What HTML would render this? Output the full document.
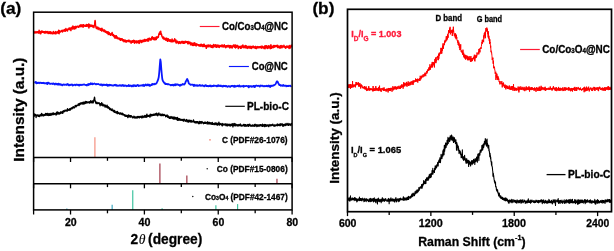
<!DOCTYPE html>
<html><head><meta charset="utf-8"><style>
html,body{margin:0;padding:0;background:#fff;overflow:hidden;}
svg{display:block;will-change:transform;}
text{font-family:"Liberation Sans",sans-serif;font-weight:bold;}
</style></head><body>
<svg width="614" height="251" viewBox="0 0 614 251">
<rect width="614" height="251" fill="#fff"/>
<polyline points="34.30,32.60 34.50,32.92 34.70,32.57 34.90,31.41 35.10,32.95 35.30,32.62 35.50,31.92 35.70,32.70 35.90,32.54 36.10,32.48 36.30,32.29 36.50,32.65 36.70,31.74 36.90,32.14 37.10,31.91 37.30,32.66 37.50,32.27 37.70,32.03 37.90,31.68 38.10,32.05 38.30,32.23 38.50,32.03 38.70,33.12 38.90,32.92 39.10,30.31 39.30,30.89 39.50,32.09 39.70,31.91 39.90,32.35 40.10,32.36 40.30,33.69 40.50,31.42 40.70,31.94 40.90,33.63 41.10,32.65 41.30,32.66 41.50,31.84 41.70,31.04 41.90,32.32 42.10,32.27 42.30,31.34 42.50,31.72 42.70,32.15 42.90,31.54 43.10,32.13 43.30,32.27 43.50,32.23 43.70,31.85 43.90,32.63 44.10,32.85 44.30,32.46 44.50,31.67 44.70,32.77 44.90,31.92 45.10,32.90 45.30,31.56 45.50,32.96 45.70,32.33 45.90,31.49 46.10,32.16 46.30,32.44 46.50,32.61 46.70,31.76 46.90,31.69 47.10,32.63 47.30,32.19 47.50,32.70 47.70,33.09 47.90,31.43 48.10,32.79 48.30,33.49 48.50,32.45 48.70,32.11 48.90,33.23 49.10,32.91 49.30,33.38 49.50,32.53 49.70,31.76 49.90,32.74 50.10,32.52 50.30,33.40 50.50,33.01 50.70,31.75 50.90,32.07 51.10,33.54 51.30,33.41 51.50,32.50 51.70,32.96 51.90,33.28 52.10,33.31 52.30,33.60 52.50,33.17 52.70,32.93 52.90,32.82 53.10,33.74 53.30,31.42 53.50,32.89 53.70,33.00 53.90,31.96 54.10,33.17 54.30,32.46 54.50,33.49 54.70,32.77 54.90,33.30 55.10,33.65 55.30,33.03 55.50,32.11 55.70,31.63 55.90,33.87 56.10,32.53 56.30,32.08 56.50,32.62 56.70,32.34 56.90,33.03 57.10,32.41 57.30,32.35 57.50,31.80 57.70,32.59 57.90,31.49 58.10,32.64 58.30,33.20 58.50,31.02 58.70,30.31 58.90,32.42 59.10,33.72 59.30,31.19 59.50,30.96 59.70,32.19 59.90,31.13 60.10,31.31 60.30,31.36 60.50,31.92 60.70,31.20 60.90,31.62 61.10,31.24 61.30,30.71 61.50,31.02 61.70,30.51 61.90,31.12 62.10,30.27 62.30,30.23 62.50,31.96 62.70,30.84 62.90,30.79 63.10,31.13 63.30,30.42 63.50,30.50 63.70,30.90 63.90,30.74 64.10,29.68 64.30,31.02 64.50,29.96 64.70,29.58 64.90,29.63 65.10,29.94 65.30,31.29 65.50,29.27 65.70,30.15 65.90,28.49 66.10,29.93 66.30,30.50 66.50,29.65 66.70,29.32 66.90,29.87 67.10,30.14 67.30,30.06 67.50,30.92 67.70,29.63 67.90,29.01 68.10,29.28 68.30,29.26 68.50,29.33 68.70,29.18 68.90,29.26 69.10,27.91 69.30,29.61 69.50,28.57 69.70,28.09 69.90,29.30 70.10,29.72 70.30,29.08 70.50,28.80 70.70,27.97 70.90,30.58 71.10,29.13 71.30,27.66 71.50,27.85 71.70,28.41 71.90,27.20 72.10,28.35 72.30,27.86 72.50,28.98 72.70,28.75 72.90,26.12 73.10,28.00 73.30,26.79 73.50,28.64 73.70,27.93 73.90,28.15 74.10,26.97 74.30,28.94 74.50,29.02 74.70,26.81 74.90,27.77 75.10,26.99 75.30,27.39 75.50,26.48 75.70,28.62 75.90,26.59 76.10,27.01 76.30,27.52 76.50,26.67 76.70,26.91 76.90,26.64 77.10,26.89 77.30,26.12 77.50,26.59 77.70,26.71 77.90,26.58 78.10,26.81 78.30,26.53 78.50,27.21 78.70,26.42 78.90,26.50 79.10,26.09 79.30,26.14 79.50,25.57 79.70,26.78 79.90,25.57 80.10,25.80 80.30,26.53 80.50,26.52 80.70,25.91 80.90,24.74 81.10,26.41 81.30,26.26 81.50,25.06 81.70,26.56 81.90,25.50 82.10,25.17 82.30,26.01 82.50,25.80 82.70,26.05 82.90,24.77 83.10,27.16 83.30,25.46 83.50,24.79 83.70,26.30 83.90,25.61 84.10,26.08 84.30,25.61 84.50,25.80 84.70,26.01 84.90,25.31 85.10,26.30 85.30,25.49 85.50,25.21 85.70,25.86 85.90,26.12 86.10,25.64 86.30,25.19 86.50,26.23 86.70,24.56 86.90,25.07 87.10,25.81 87.30,24.83 87.50,25.80 87.70,25.74 87.90,26.41 88.10,25.14 88.30,25.34 88.50,26.02 88.70,24.07 88.90,27.97 89.10,25.32 89.30,25.31 89.50,26.44 89.70,25.82 89.90,24.62 90.10,26.32 90.30,26.50 90.50,25.61 90.70,25.75 90.90,26.31 91.10,25.36 91.30,26.33 91.50,26.19 91.70,25.60 91.90,25.13 92.10,25.97 92.30,25.54 92.50,26.87 92.70,26.29 92.90,26.75 93.10,26.30 93.30,26.41 93.50,25.68 93.70,26.69 93.90,27.43 94.10,25.86 94.30,25.41 94.50,25.18 94.70,23.81 94.90,21.52 95.10,20.50 95.30,22.02 95.50,25.57 95.70,25.90 95.90,26.87 96.10,27.75 96.30,27.17 96.50,28.61 96.70,27.33 96.90,27.35 97.10,27.79 97.30,28.07 97.50,27.28 97.70,28.33 97.90,27.28 98.10,29.51 98.30,28.56 98.50,28.25 98.70,28.14 98.90,28.59 99.10,28.77 99.30,28.27 99.50,28.43 99.70,29.01 99.90,28.84 100.10,29.94 100.30,30.14 100.50,29.43 100.70,29.82 100.90,28.62 101.10,30.07 101.30,29.68 101.50,30.12 101.70,30.97 101.90,28.34 102.10,30.20 102.30,29.33 102.50,30.60 102.70,29.35 102.90,30.01 103.10,30.58 103.30,30.96 103.50,30.67 103.70,30.16 103.90,30.42 104.10,31.52 104.30,30.99 104.50,29.92 104.70,31.78 104.90,31.58 105.10,32.00 105.30,31.25 105.50,32.17 105.70,30.95 105.90,32.19 106.10,31.55 106.30,32.47 106.50,32.80 106.70,31.68 106.90,32.27 107.10,32.43 107.30,33.34 107.50,33.11 107.70,31.86 107.90,33.14 108.10,33.44 108.30,34.51 108.50,31.95 108.70,32.86 108.90,34.28 109.10,32.51 109.30,32.72 109.50,34.03 109.70,34.49 109.90,33.42 110.10,34.37 110.30,34.17 110.50,35.25 110.70,34.26 110.90,35.01 111.10,33.71 111.30,34.16 111.50,34.02 111.70,34.38 111.90,33.24 112.10,32.42 112.30,34.41 112.50,35.21 112.70,35.02 112.90,35.20 113.10,35.46 113.30,34.57 113.50,36.04 113.70,36.20 113.90,35.55 114.10,36.79 114.30,35.42 114.50,36.10 114.70,36.25 114.90,38.08 115.10,35.67 115.30,37.28 115.50,37.64 115.70,37.34 115.90,38.00 116.10,36.57 116.30,35.76 116.50,37.99 116.70,36.71 116.90,37.40 117.10,36.90 117.30,38.55 117.50,38.50 117.70,37.48 117.90,38.70 118.10,38.23 118.30,38.13 118.50,38.35 118.70,38.25 118.90,38.90 119.10,38.77 119.30,38.38 119.50,39.40 119.70,38.35 119.90,39.05 120.10,39.21 120.30,40.02 120.50,38.70 120.70,40.35 120.90,39.32 121.10,39.13 121.30,38.87 121.50,39.82 121.70,39.51 121.90,38.78 122.10,38.83 122.30,39.29 122.50,39.28 122.70,40.58 122.90,40.84 123.10,40.55 123.30,40.25 123.50,39.76 123.70,40.16 123.90,40.80 124.10,41.73 124.30,40.93 124.50,40.15 124.70,40.42 124.90,40.11 125.10,39.94 125.30,40.41 125.50,40.72 125.70,41.91 125.90,40.70 126.10,41.65 126.30,41.97 126.50,40.82 126.70,41.93 126.90,41.34 127.10,40.58 127.30,41.09 127.50,40.95 127.70,40.80 127.90,40.86 128.10,41.13 128.30,41.36 128.50,40.46 128.70,41.10 128.90,40.07 129.10,41.34 129.30,41.62 129.50,41.33 129.70,41.44 129.90,41.67 130.10,40.82 130.30,41.14 130.50,41.69 130.70,42.05 130.90,41.65 131.10,43.18 131.30,41.35 131.50,42.13 131.70,42.33 131.90,41.37 132.10,40.91 132.30,40.67 132.50,41.63 132.70,42.31 132.90,41.74 133.10,41.69 133.30,41.32 133.50,42.00 133.70,40.13 133.90,41.81 134.10,41.68 134.30,40.72 134.50,43.22 134.70,40.74 134.90,40.97 135.10,40.90 135.30,42.53 135.50,41.15 135.70,42.25 135.90,42.21 136.10,41.99 136.30,40.90 136.50,41.40 136.70,43.01 136.90,40.94 137.10,41.27 137.30,41.74 137.50,42.42 137.70,42.03 137.90,42.38 138.10,41.11 138.30,42.51 138.50,42.24 138.70,40.71 138.90,42.88 139.10,43.38 139.30,41.21 139.50,41.76 139.70,42.66 139.90,40.61 140.10,40.21 140.30,40.65 140.50,41.12 140.70,41.06 140.90,41.84 141.10,41.55 141.30,40.44 141.50,41.65 141.70,42.52 141.90,41.99 142.10,41.79 142.30,41.05 142.50,41.67 142.70,40.26 142.90,41.41 143.10,40.77 143.30,41.57 143.50,41.06 143.70,39.93 143.90,40.74 144.10,41.46 144.30,39.77 144.50,40.13 144.70,39.94 144.90,39.39 145.10,41.07 145.30,41.27 145.50,40.87 145.70,40.44 145.90,40.19 146.10,40.35 146.30,39.63 146.50,40.72 146.70,40.79 146.90,40.67 147.10,39.60 147.30,39.98 147.50,39.77 147.70,41.10 147.90,39.93 148.10,38.45 148.30,40.01 148.50,41.00 148.70,40.13 148.90,40.23 149.10,39.60 149.30,38.16 149.50,38.24 149.70,38.60 149.90,39.35 150.10,39.62 150.30,39.85 150.50,39.10 150.70,39.97 150.90,39.07 151.10,38.73 151.30,39.79 151.50,38.51 151.70,37.20 151.90,38.33 152.10,39.10 152.30,36.84 152.50,38.71 152.70,38.69 152.90,37.88 153.10,37.80 153.30,38.48 153.50,38.38 153.70,39.61 153.90,38.95 154.10,37.54 154.30,38.01 154.50,39.06 154.70,39.85 154.90,38.75 155.10,38.65 155.30,39.69 155.50,38.31 155.70,38.05 155.90,37.21 156.10,37.76 156.30,39.56 156.50,36.94 156.70,37.84 156.90,36.72 157.10,37.65 157.30,38.01 157.50,37.03 157.70,37.49 157.90,37.22 158.10,36.73 158.30,37.27 158.50,36.22 158.70,35.00 158.90,34.22 159.10,33.55 159.30,33.88 159.50,32.74 159.70,34.35 159.90,33.33 160.10,31.68 160.30,31.61 160.50,33.26 160.70,31.18 160.90,32.74 161.10,34.33 161.30,33.65 161.50,34.55 161.70,35.19 161.90,36.39 162.10,36.47 162.30,37.04 162.50,37.52 162.70,37.42 162.90,38.45 163.10,37.40 163.30,37.11 163.50,37.06 163.70,37.34 163.90,38.24 164.10,39.49 164.30,39.01 164.50,38.59 164.70,38.36 164.90,38.84 165.10,39.01 165.30,38.98 165.50,38.45 165.70,39.19 165.90,40.31 166.10,38.14 166.30,39.56 166.50,38.30 166.70,39.97 166.90,39.38 167.10,38.49 167.30,40.08 167.50,41.33 167.70,40.18 167.90,40.97 168.10,40.15 168.30,38.74 168.50,40.63 168.70,40.04 168.90,39.35 169.10,40.97 169.30,40.66 169.50,40.13 169.70,41.14 169.90,39.96 170.10,41.06 170.30,39.99 170.50,41.06 170.70,39.95 170.90,41.79 171.10,40.96 171.30,41.82 171.50,40.27 171.70,40.54 171.90,41.49 172.10,39.01 172.30,40.22 172.50,41.72 172.70,41.35 172.90,41.74 173.10,40.87 173.30,41.51 173.50,40.63 173.70,40.21 173.90,40.02 174.10,40.85 174.30,40.88 174.50,40.86 174.70,38.85 174.90,39.97 175.10,41.03 175.30,41.65 175.50,41.08 175.70,40.92 175.90,39.96 176.10,43.04 176.30,40.91 176.50,42.91 176.70,42.87 176.90,42.02 177.10,41.49 177.30,42.03 177.50,41.19 177.70,42.23 177.90,42.10 178.10,42.52 178.30,42.86 178.50,43.45 178.70,42.01 178.90,43.05 179.10,41.80 179.30,41.77 179.50,41.99 179.70,41.76 179.90,43.15 180.10,43.13 180.30,43.39 180.50,42.49 180.70,42.71 180.90,42.12 181.10,41.73 181.30,42.85 181.50,42.73 181.70,41.77 181.90,42.96 182.10,41.33 182.30,42.42 182.50,42.11 182.70,42.17 182.90,41.78 183.10,43.20 183.30,42.92 183.50,43.34 183.70,42.59 183.90,41.58 184.10,42.21 184.30,41.62 184.50,42.75 184.70,43.25 184.90,42.61 185.10,41.92 185.30,42.05 185.50,42.43 185.70,41.24 185.90,42.33 186.10,42.34 186.30,41.80 186.50,41.89 186.70,42.31 186.90,41.64 187.10,41.69 187.30,42.89 187.50,42.59 187.70,43.71 187.90,41.96 188.10,41.52 188.30,43.54 188.50,43.67 188.70,42.59 188.90,42.18 189.10,43.28 189.30,42.17 189.50,43.24 189.70,42.03 189.90,43.45 190.10,42.19 190.30,43.57 190.50,44.85 190.70,43.64 190.90,44.41 191.10,43.47 191.30,43.33 191.50,42.94 191.70,44.75 191.90,44.02 192.10,45.22 192.30,43.29 192.50,43.99 192.70,44.23 192.90,45.19 193.10,45.50 193.30,43.80 193.50,43.49 193.70,43.09 193.90,45.27 194.10,44.30 194.30,43.94 194.50,44.38 194.70,42.65 194.90,43.27 195.10,45.16 195.30,44.81 195.50,44.67 195.70,43.90 195.90,45.05 196.10,45.92 196.30,43.86 196.50,44.76 196.70,44.49 196.90,45.08 197.10,44.88 197.30,44.81 197.50,44.33 197.70,44.98 197.90,44.59 198.10,44.96 198.30,45.05 198.50,45.59 198.70,44.76 198.90,44.97 199.10,45.97 199.30,45.10 199.50,45.09 199.70,45.90 199.90,45.51 200.10,45.40 200.30,45.51 200.50,44.50 200.70,45.71 200.90,46.33 201.10,45.82 201.30,44.34 201.50,45.65 201.70,44.83 201.90,45.32 202.10,45.58 202.30,44.67 202.50,46.45 202.70,45.48 202.90,46.10 203.10,46.00 203.30,46.51 203.50,46.41 203.70,44.56 203.90,45.63 204.10,44.12 204.30,45.31 204.50,46.13 204.70,46.28 204.90,46.56 205.10,45.40 205.30,45.90 205.50,45.75 205.70,46.58 205.90,46.81 206.10,45.46 206.30,48.37 206.50,45.72 206.70,45.48 206.90,46.16 207.10,46.28 207.30,46.14 207.50,45.31 207.70,46.81 207.90,45.82 208.10,46.87 208.30,46.78 208.50,44.92 208.70,45.13 208.90,45.13 209.10,46.01 209.30,45.88 209.50,46.04 209.70,45.29 209.90,46.17 210.10,46.86 210.30,44.95 210.50,45.75 210.70,46.07 210.90,45.82 211.10,45.78 211.30,47.16 211.50,46.83 211.70,46.53 211.90,45.41 212.10,47.52 212.30,46.21 212.50,45.56 212.70,45.73 212.90,45.63 213.10,47.47 213.30,46.13 213.50,46.04 213.70,44.49 213.90,46.52 214.10,45.27 214.30,45.23 214.50,46.45 214.70,45.43 214.90,46.62 215.10,46.83 215.30,44.80 215.50,45.96 215.70,44.96 215.90,46.02 216.10,46.71 216.30,45.12 216.50,47.34 216.70,45.87 216.90,45.26 217.10,46.01 217.30,46.66 217.50,45.14 217.70,46.12 217.90,45.16 218.10,46.97 218.30,46.24 218.50,45.84 218.70,46.87 218.90,45.24 219.10,45.88 219.30,47.45 219.50,46.08 219.70,47.12 219.90,46.31 220.10,45.69 220.30,46.01 220.50,46.24 220.70,45.91 220.90,45.62 221.10,45.66 221.30,45.17 221.50,46.29 221.70,46.50 221.90,46.75 222.10,44.97 222.30,46.80 222.50,46.23 222.70,45.25 222.90,46.32 223.10,46.83 223.30,46.63 223.50,46.78 223.70,46.94 223.90,46.91 224.10,46.26 224.30,44.83 224.50,45.76 224.70,46.55 224.90,45.98 225.10,46.79 225.30,46.88 225.50,46.36 225.70,47.64 225.90,45.65 226.10,46.99 226.30,46.01 226.50,45.80 226.70,46.77 226.90,45.93 227.10,46.97 227.30,45.55 227.50,46.40 227.70,45.79 227.90,46.22 228.10,46.13 228.30,45.61 228.50,46.86 228.70,45.54 228.90,45.73 229.10,47.05 229.30,47.11 229.50,46.90 229.70,46.68 229.90,48.04 230.10,45.61 230.30,45.94 230.50,45.77 230.70,47.10 230.90,46.68 231.10,47.26 231.30,47.17 231.50,46.34 231.70,45.93 231.90,45.82 232.10,48.07 232.30,47.21 232.50,46.95 232.70,46.31 232.90,46.42 233.10,46.32 233.30,46.34 233.50,44.90 233.70,46.55 233.90,46.33 234.10,46.81 234.30,46.76 234.50,47.22 234.70,46.63 234.90,47.20 235.10,44.86 235.30,45.89 235.50,47.88 235.70,45.83 235.90,46.50 236.10,47.20 236.30,46.10 236.50,47.23 236.70,45.73 236.90,45.40 237.10,45.82 237.30,45.61 237.50,46.76 237.70,46.56 237.90,47.02 238.10,46.08 238.30,48.59 238.50,46.76 238.70,46.80 238.90,47.16 239.10,46.68 239.30,46.42 239.50,46.93 239.70,47.53 239.90,47.36 240.10,47.56 240.30,46.52 240.50,46.38 240.70,48.33 240.90,46.77 241.10,47.28 241.30,47.47 241.50,47.96 241.70,46.03 241.90,46.64 242.10,46.68 242.30,46.78 242.50,45.31 242.70,46.94 242.90,44.99 243.10,47.23 243.30,47.41 243.50,47.45 243.70,46.20 243.90,47.72 244.10,46.45 244.30,46.20 244.50,46.38 244.70,46.47 244.90,47.19 245.10,47.65 245.30,45.61 245.50,46.70 245.70,47.72 245.90,47.23 246.10,47.45 246.30,46.04 246.50,47.76 246.70,46.00 246.90,47.24 247.10,48.06 247.30,48.42 247.50,47.47 247.70,47.73 247.90,46.69 248.10,46.78 248.30,47.94 248.50,47.12 248.70,47.03 248.90,46.14 249.10,47.23 249.30,47.58 249.50,46.57 249.70,46.78 249.90,48.24 250.10,47.26 250.30,46.94 250.50,46.34 250.70,46.71 250.90,46.97 251.10,48.10 251.30,46.72 251.50,48.40 251.70,46.50 251.90,46.90 252.10,47.74 252.30,46.99 252.50,46.57 252.70,47.06 252.90,47.47 253.10,45.96 253.30,46.99 253.50,47.09 253.70,46.88 253.90,47.68 254.10,46.77 254.30,46.91 254.50,47.20 254.70,47.68 254.90,47.02 255.10,48.23 255.30,46.54 255.50,48.08 255.70,46.58 255.90,47.06 256.10,47.43 256.30,48.62 256.50,47.81 256.70,46.90 256.90,48.09 257.10,47.03 257.30,46.63 257.50,47.50 257.70,47.25 257.90,47.85 258.10,46.80 258.30,47.45 258.50,47.63 258.70,47.38 258.90,47.17 259.10,46.70 259.30,47.82 259.50,47.29 259.70,47.54 259.90,46.94 260.10,47.20 260.30,46.46 260.50,47.25 260.70,47.73 260.90,47.26 261.10,47.79 261.30,47.41 261.50,48.15 261.70,47.06 261.90,46.04 262.10,47.49 262.30,47.07 262.50,46.51 262.70,47.64 262.90,47.37 263.10,47.49 263.30,46.95 263.50,47.31 263.70,47.35 263.90,48.41 264.10,46.68 264.30,47.15 264.50,47.41 264.70,45.94 264.90,46.02 265.10,48.65 265.30,45.89 265.50,47.52 265.70,46.52 265.90,46.57 266.10,45.71 266.30,46.46 266.50,47.63 266.70,46.10 266.90,47.48 267.10,47.27 267.30,48.45 267.50,46.70 267.70,47.90 267.90,47.63 268.10,46.80 268.30,45.83 268.50,48.04 268.70,46.01 268.90,46.63 269.10,47.56 269.30,47.72 269.50,46.33 269.70,46.89 269.90,46.72 270.10,47.72 270.30,48.63 270.50,45.59 270.70,47.50 270.90,44.84 271.10,46.84 271.30,46.04 271.50,48.20 271.70,46.91 271.90,46.26 272.10,46.42 272.30,46.35 272.50,46.87 272.70,46.62 272.90,47.17 273.10,47.78 273.30,47.17 273.50,45.81 273.70,45.51 273.90,46.10 274.10,47.34 274.30,46.35 274.50,46.09 274.70,46.62 274.90,45.50 275.10,45.66 275.30,46.77 275.50,46.16 275.70,46.00 275.90,46.49 276.10,45.80 276.30,45.68 276.50,45.80 276.70,46.52 276.90,46.14 277.10,45.28 277.30,45.95 277.50,46.66 277.70,47.57 277.90,45.51 278.10,46.59 278.30,46.22 278.50,47.01 278.70,46.78 278.90,47.53 279.10,46.88 279.30,46.16 279.50,46.18 279.70,46.86 279.90,46.86 280.10,48.27 280.30,47.78 280.50,45.79 280.70,46.87 280.90,45.70 281.10,45.48 281.30,47.16 281.50,47.03 281.70,45.92 281.90,47.80 282.10,45.97 282.30,45.84 282.50,47.12 282.70,46.82 282.90,46.56 283.10,46.63 283.30,46.83 283.50,46.58 283.70,46.56 283.90,45.36 284.10,45.75 284.30,47.11 284.50,46.20 284.70,47.07 284.90,47.56 285.10,46.45 285.30,46.89 285.50,48.15 285.70,47.19 285.90,47.99 286.10,47.78 286.30,47.23 286.50,46.63 286.70,46.12 286.90,45.94 287.10,47.06 287.30,47.05 287.50,46.60 287.70,47.32 287.90,46.30 288.10,47.50 288.30,46.76 288.50,46.71 288.70,46.74 288.90,46.67 289.10,48.48 289.30,45.62 289.50,46.87 289.70,47.62 289.90,47.26 290.10,46.54 290.30,47.98 290.50,46.01 290.70,45.85 290.90,47.17 291.10,45.76 291.30,45.11 291.50,47.40" fill="none" stroke="#ff0000" stroke-width="1.5" stroke-linejoin="round"/>
<polyline points="34.30,82.69 34.80,82.46 35.30,82.52 35.80,81.83 36.30,83.34 36.80,83.13 37.30,82.64 37.80,83.04 38.30,82.90 38.80,82.63 39.30,83.19 39.80,82.76 40.30,82.78 40.80,82.64 41.30,83.11 41.80,82.94 42.30,83.19 42.80,82.82 43.30,83.10 43.80,82.77 44.30,83.41 44.80,83.21 45.30,83.29 45.80,83.34 46.30,82.88 46.80,83.53 47.30,84.01 47.80,82.75 48.30,82.75 48.80,82.86 49.30,83.71 49.80,83.50 50.30,83.86 50.80,83.78 51.30,83.64 51.80,83.71 52.30,83.60 52.80,84.01 53.30,83.35 53.80,83.65 54.30,83.93 54.80,84.53 55.30,83.68 55.80,83.62 56.30,83.85 56.80,84.43 57.30,84.06 57.80,84.66 58.30,83.58 58.80,84.68 59.30,84.69 59.80,83.88 60.30,84.47 60.80,84.88 61.30,84.53 61.80,84.88 62.30,85.40 62.80,84.69 63.30,84.53 63.80,84.38 64.30,84.90 64.80,84.62 65.30,84.64 65.80,84.68 66.30,84.96 66.80,84.37 67.30,84.22 67.80,83.92 68.30,85.21 68.80,84.83 69.30,85.34 69.80,84.82 70.30,84.58 70.80,85.02 71.30,84.83 71.80,84.43 72.30,84.57 72.80,85.51 73.30,85.03 73.80,85.06 74.30,84.82 74.80,84.69 75.30,85.25 75.80,84.91 76.30,84.69 76.80,84.91 77.30,84.65 77.80,85.04 78.30,85.37 78.80,84.69 79.30,85.48 79.80,84.75 80.30,85.04 80.80,84.70 81.30,84.91 81.80,85.01 82.30,84.84 82.80,84.73 83.30,84.72 83.80,84.64 84.30,84.34 84.80,84.75 85.30,84.94 85.80,85.06 86.30,84.91 86.80,85.49 87.30,84.68 87.80,84.35 88.30,85.11 88.80,84.01 89.30,84.62 89.80,83.84 90.30,84.19 90.80,83.27 91.30,84.18 91.80,83.73 92.30,83.39 92.80,84.28 93.30,83.96 93.80,83.74 94.30,83.52 94.80,83.84 95.30,83.89 95.80,84.29 96.30,84.41 96.80,83.99 97.30,84.11 97.80,84.18 98.30,83.94 98.80,84.26 99.30,84.47 99.80,84.79 100.30,85.05 100.80,84.35 101.30,84.87 101.80,84.56 102.30,85.48 102.80,84.77 103.30,85.00 103.80,84.53 104.30,84.61 104.80,85.00 105.30,84.83 105.80,85.12 106.30,84.48 106.80,85.29 107.30,84.77 107.80,85.72 108.30,85.04 108.80,85.55 109.30,84.70 109.80,85.37 110.30,84.93 110.80,85.09 111.30,85.29 111.80,85.19 112.30,85.42 112.80,85.60 113.30,85.59 113.80,85.34 114.30,84.91 114.80,85.12 115.30,85.35 115.80,84.69 116.30,85.72 116.80,85.38 117.30,85.39 117.80,85.83 118.30,85.75 118.80,85.60 119.30,85.19 119.80,85.66 120.30,85.69 120.80,85.27 121.30,85.96 121.80,85.79 122.30,84.93 122.80,85.67 123.30,85.20 123.80,86.05 124.30,85.95 124.80,85.29 125.30,85.37 125.80,85.73 126.30,85.62 126.80,86.24 127.30,85.98 127.80,85.62 128.30,85.93 128.80,85.02 129.30,85.85 129.80,86.05 130.30,85.68 130.80,85.50 131.30,85.95 131.80,86.44 132.30,85.82 132.80,85.36 133.30,86.25 133.80,85.09 134.30,85.91 134.80,85.52 135.30,86.04 135.80,85.40 136.30,86.14 136.80,85.76 137.30,85.03 137.80,84.92 138.30,85.48 138.80,86.01 139.30,85.58 139.80,85.53 140.30,85.39 140.80,85.70 141.30,85.54 141.80,85.48 142.30,85.00 142.80,85.73 143.30,85.76 143.80,84.80 144.30,86.03 144.80,85.44 145.30,84.99 145.80,84.46 146.30,85.33 146.80,85.26 147.30,84.83 147.80,84.38 148.30,85.37 148.80,84.75 149.30,84.76 149.80,85.89 150.30,85.61 150.80,85.16 151.30,84.63 151.80,84.97 152.30,83.89 152.80,84.66 153.30,84.27 153.80,83.99 154.30,83.76 154.80,84.34 155.30,83.98 155.80,83.74 156.30,83.62 156.80,82.53 157.30,81.67 157.80,80.39 158.30,79.18 158.80,76.76 159.30,71.81 159.80,65.36 160.30,59.46 160.80,62.27 161.30,69.10 161.80,74.47 162.30,78.99 162.80,80.71 163.30,81.44 163.80,82.29 164.30,83.11 164.80,83.04 165.30,83.99 165.80,83.61 166.30,84.11 166.80,84.01 167.30,84.31 167.80,84.10 168.30,84.08 168.80,84.35 169.30,84.50 169.80,84.68 170.30,84.84 170.80,85.38 171.30,85.15 171.80,84.80 172.30,85.17 172.80,84.69 173.30,85.45 173.80,85.15 174.30,84.50 174.80,85.24 175.30,85.27 175.80,84.06 176.30,84.74 176.80,84.84 177.30,84.33 177.80,84.63 178.30,84.67 178.80,85.18 179.30,85.09 179.80,85.89 180.30,84.81 180.80,85.33 181.30,84.91 181.80,84.92 182.30,84.34 182.80,83.97 183.30,84.22 183.80,84.54 184.30,84.51 184.80,83.68 185.30,82.90 185.80,81.33 186.30,80.72 186.80,79.49 187.30,79.01 187.80,80.50 188.30,81.59 188.80,83.51 189.30,83.84 189.80,84.13 190.30,84.63 190.80,84.87 191.30,84.73 191.80,84.57 192.30,84.65 192.80,84.56 193.30,85.40 193.80,86.06 194.30,84.73 194.80,85.41 195.30,85.54 195.80,85.08 196.30,85.52 196.80,85.09 197.30,85.91 197.80,85.30 198.30,85.56 198.80,85.79 199.30,85.41 199.80,84.95 200.30,85.41 200.80,85.87 201.30,85.59 201.80,85.71 202.30,85.27 202.80,85.71 203.30,85.93 203.80,85.70 204.30,86.36 204.80,85.63 205.30,85.35 205.80,85.16 206.30,86.14 206.80,85.73 207.30,86.12 207.80,85.93 208.30,86.35 208.80,86.24 209.30,85.67 209.80,85.91 210.30,86.21 210.80,85.41 211.30,86.36 211.80,86.28 212.30,86.21 212.80,85.81 213.30,86.00 213.80,85.51 214.30,85.93 214.80,85.72 215.30,85.96 215.80,85.77 216.30,86.05 216.80,86.37 217.30,85.51 217.80,86.30 218.30,85.29 218.80,85.24 219.30,85.97 219.80,86.02 220.30,86.18 220.80,85.46 221.30,86.02 221.80,86.10 222.30,86.50 222.80,86.03 223.30,86.26 223.80,85.74 224.30,86.03 224.80,85.95 225.30,86.36 225.80,85.77 226.30,85.83 226.80,86.33 227.30,86.77 227.80,86.28 228.30,86.26 228.80,86.04 229.30,86.55 229.80,86.36 230.30,86.79 230.80,86.30 231.30,85.86 231.80,86.00 232.30,85.86 232.80,85.77 233.30,86.66 233.80,86.51 234.30,85.79 234.80,86.86 235.30,86.32 235.80,85.91 236.30,86.38 236.80,86.23 237.30,85.98 237.80,85.58 238.30,86.27 238.80,86.37 239.30,85.36 239.80,86.46 240.30,86.49 240.80,86.11 241.30,86.32 241.80,86.18 242.30,85.99 242.80,86.15 243.30,86.75 243.80,85.77 244.30,86.37 244.80,86.35 245.30,86.03 245.80,86.13 246.30,85.79 246.80,85.98 247.30,86.28 247.80,86.39 248.30,85.96 248.80,87.34 249.30,86.07 249.80,86.31 250.30,86.18 250.80,86.12 251.30,86.71 251.80,86.08 252.30,86.71 252.80,86.64 253.30,85.87 253.80,86.59 254.30,86.00 254.80,87.18 255.30,86.08 255.80,85.88 256.30,85.53 256.80,85.74 257.30,85.99 257.80,85.83 258.30,85.75 258.80,85.93 259.30,86.09 259.80,86.66 260.30,85.55 260.80,85.95 261.30,85.80 261.80,85.60 262.30,85.67 262.80,85.79 263.30,86.35 263.80,86.02 264.30,85.89 264.80,86.29 265.30,86.16 265.80,85.97 266.30,86.18 266.80,85.74 267.30,86.24 267.80,86.16 268.30,85.84 268.80,85.54 269.30,86.48 269.80,85.95 270.30,86.96 270.80,85.63 271.30,86.11 271.80,85.61 272.30,85.78 272.80,85.89 273.30,85.20 273.80,85.27 274.30,85.11 274.80,84.73 275.30,84.34 275.80,83.66 276.30,82.51 276.80,81.45 277.30,81.35 277.80,82.04 278.30,83.22 278.80,84.05 279.30,84.99 279.80,84.96 280.30,84.87 280.80,85.69 281.30,85.30 281.80,85.39 282.30,85.64 282.80,85.93 283.30,84.96 283.80,85.44 284.30,85.92 284.80,85.74 285.30,85.58 285.80,85.71 286.30,86.39 286.80,85.76 287.30,86.17 287.80,86.21 288.30,85.78 288.80,86.10 289.30,85.79 289.80,85.73 290.30,85.56 290.80,86.26 291.30,85.81" fill="none" stroke="#0a18ff" stroke-width="1.8" stroke-linejoin="round"/>
<polyline points="34.30,116.80 34.50,114.04 34.70,115.81 34.90,115.22 35.10,115.28 35.30,115.41 35.50,114.32 35.70,115.38 35.90,115.00 36.10,117.50 36.30,115.63 36.50,115.27 36.70,115.31 36.90,115.07 37.10,114.82 37.30,115.21 37.50,115.72 37.70,115.28 37.90,115.99 38.10,115.28 38.30,115.40 38.50,116.30 38.70,115.69 38.90,115.05 39.10,115.23 39.30,115.65 39.50,116.47 39.70,115.14 39.90,115.14 40.10,115.87 40.30,114.73 40.50,115.07 40.70,115.76 40.90,115.56 41.10,115.25 41.30,115.59 41.50,113.47 41.70,115.77 41.90,114.56 42.10,114.12 42.30,115.27 42.50,115.51 42.70,114.81 42.90,114.42 43.10,115.06 43.30,115.00 43.50,115.86 43.70,115.44 43.90,115.10 44.10,115.63 44.30,114.82 44.50,114.37 44.70,115.26 44.90,115.24 45.10,114.75 45.30,114.39 45.50,114.98 45.70,113.33 45.90,115.22 46.10,115.09 46.30,113.79 46.50,114.79 46.70,114.16 46.90,115.17 47.10,113.48 47.30,114.13 47.50,115.09 47.70,115.34 47.90,113.33 48.10,114.30 48.30,114.78 48.50,114.20 48.70,115.50 48.90,113.81 49.10,114.71 49.30,113.85 49.50,115.30 49.70,114.42 49.90,114.19 50.10,113.36 50.30,115.38 50.50,114.79 50.70,114.77 50.90,114.98 51.10,114.48 51.30,113.86 51.50,113.74 51.70,113.72 51.90,114.99 52.10,113.27 52.30,113.76 52.50,113.90 52.70,114.20 52.90,114.38 53.10,113.26 53.30,112.94 53.50,113.95 53.70,114.65 53.90,114.35 54.10,113.99 54.30,113.64 54.50,113.98 54.70,113.63 54.90,114.23 55.10,113.23 55.30,113.76 55.50,113.58 55.70,113.94 55.90,113.71 56.10,115.07 56.30,114.41 56.50,114.37 56.70,112.22 56.90,113.20 57.10,113.00 57.30,113.65 57.50,111.93 57.70,113.96 57.90,113.86 58.10,112.40 58.30,112.55 58.50,112.62 58.70,113.09 58.90,113.40 59.10,114.21 59.30,112.82 59.50,113.35 59.70,112.93 59.90,113.84 60.10,113.18 60.30,113.50 60.50,111.98 60.70,112.45 60.90,112.01 61.10,113.34 61.30,112.77 61.50,112.12 61.70,111.97 61.90,112.46 62.10,111.68 62.30,111.47 62.50,112.24 62.70,113.36 62.90,111.66 63.10,111.40 63.30,110.95 63.50,110.78 63.70,111.82 63.90,111.93 64.10,111.35 64.30,111.46 64.50,111.26 64.70,111.19 64.90,110.11 65.10,110.67 65.30,110.94 65.50,110.32 65.70,110.43 65.90,110.15 66.10,110.36 66.30,110.99 66.50,110.16 66.70,110.23 66.90,110.73 67.10,110.55 67.30,111.09 67.50,108.74 67.70,110.42 67.90,109.53 68.10,109.82 68.30,110.15 68.50,110.21 68.70,110.10 68.90,109.48 69.10,110.27 69.30,109.04 69.50,109.04 69.70,109.51 69.90,108.61 70.10,110.15 70.30,109.37 70.50,109.98 70.70,108.57 70.90,108.26 71.10,108.50 71.30,108.75 71.50,107.87 71.70,108.36 71.90,108.03 72.10,108.92 72.30,107.47 72.50,108.40 72.70,107.30 72.90,107.02 73.10,107.08 73.30,106.70 73.50,107.41 73.70,107.85 73.90,107.23 74.10,107.42 74.30,107.93 74.50,107.02 74.70,106.88 74.90,106.51 75.10,105.61 75.30,106.94 75.50,105.34 75.70,106.69 75.90,106.20 76.10,106.79 76.30,105.98 76.50,105.43 76.70,106.05 76.90,105.41 77.10,105.54 77.30,105.58 77.50,105.39 77.70,105.26 77.90,104.79 78.10,105.08 78.30,103.82 78.50,104.92 78.70,104.21 78.90,105.51 79.10,105.52 79.30,103.49 79.50,104.66 79.70,104.40 79.90,103.75 80.10,104.59 80.30,103.89 80.50,103.01 80.70,103.80 80.90,103.77 81.10,103.82 81.30,102.91 81.50,103.92 81.70,103.89 81.90,102.66 82.10,102.85 82.30,103.10 82.50,102.72 82.70,104.02 82.90,103.01 83.10,102.19 83.30,102.25 83.50,102.62 83.70,103.96 83.90,102.41 84.10,102.54 84.30,102.72 84.50,102.35 84.70,103.70 84.90,101.99 85.10,102.73 85.30,102.36 85.50,102.62 85.70,101.52 85.90,103.27 86.10,102.11 86.30,102.19 86.50,101.59 86.70,101.69 86.90,102.45 87.10,102.69 87.30,102.53 87.50,102.79 87.70,102.48 87.90,102.05 88.10,102.52 88.30,102.36 88.50,101.93 88.70,102.42 88.90,102.74 89.10,102.10 89.30,101.73 89.50,102.37 89.70,103.07 89.90,101.79 90.10,101.85 90.30,101.81 90.50,102.62 90.70,100.78 90.90,102.09 91.10,102.58 91.30,101.36 91.50,102.74 91.70,102.15 91.90,101.49 92.10,101.93 92.30,100.88 92.50,101.45 92.70,102.87 92.90,101.22 93.10,102.83 93.30,101.62 93.50,102.16 93.70,101.40 93.90,99.65 94.10,99.90 94.30,98.96 94.50,97.10 94.70,98.15 94.90,100.68 95.10,100.94 95.30,100.79 95.50,101.70 95.70,102.83 95.90,102.18 96.10,103.15 96.30,103.62 96.50,102.82 96.70,102.21 96.90,102.19 97.10,103.03 97.30,103.65 97.50,103.35 97.70,103.59 97.90,103.06 98.10,103.57 98.30,103.16 98.50,103.31 98.70,102.79 98.90,102.68 99.10,103.39 99.30,103.07 99.50,103.21 99.70,104.25 99.90,103.84 100.10,105.71 100.30,104.57 100.50,103.69 100.70,104.60 100.90,104.40 101.10,103.83 101.30,104.97 101.50,103.90 101.70,102.59 101.90,104.96 102.10,104.18 102.30,105.50 102.50,104.29 102.70,104.03 102.90,105.74 103.10,104.23 103.30,105.07 103.50,105.88 103.70,105.16 103.90,105.11 104.10,105.30 104.30,105.82 104.50,104.91 104.70,105.84 104.90,105.90 105.10,107.04 105.30,105.52 105.50,105.27 105.70,106.36 105.90,105.78 106.10,106.30 106.30,106.32 106.50,107.05 106.70,106.07 106.90,106.53 107.10,105.18 107.30,106.30 107.50,107.88 107.70,106.68 107.90,106.80 108.10,106.62 108.30,107.83 108.50,107.73 108.70,107.04 108.90,108.29 109.10,108.18 109.30,108.62 109.50,107.92 109.70,109.48 109.90,108.82 110.10,108.64 110.30,108.53 110.50,108.83 110.70,109.62 110.90,109.07 111.10,110.01 111.30,109.84 111.50,110.44 111.70,110.26 111.90,109.87 112.10,108.90 112.30,110.36 112.50,110.78 112.70,110.53 112.90,110.88 113.10,110.37 113.30,110.52 113.50,110.29 113.70,111.77 113.90,111.14 114.10,110.85 114.30,110.44 114.50,111.24 114.70,112.28 114.90,111.79 115.10,111.16 115.30,112.54 115.50,112.62 115.70,112.44 115.90,112.41 116.10,112.71 116.30,112.42 116.50,112.64 116.70,111.78 116.90,113.23 117.10,112.54 117.30,113.70 117.50,111.33 117.70,113.05 117.90,113.29 118.10,112.57 118.30,113.12 118.50,113.37 118.70,113.34 118.90,112.74 119.10,113.05 119.30,113.82 119.50,114.04 119.70,113.40 119.90,113.46 120.10,113.61 120.30,114.18 120.50,112.99 120.70,112.90 120.90,113.84 121.10,113.17 121.30,113.55 121.50,114.03 121.70,114.34 121.90,113.48 122.10,114.68 122.30,113.21 122.50,114.67 122.70,113.47 122.90,113.73 123.10,114.95 123.30,114.40 123.50,114.24 123.70,114.53 123.90,115.15 124.10,114.91 124.30,114.99 124.50,115.72 124.70,114.73 124.90,114.94 125.10,114.98 125.30,116.06 125.50,116.02 125.70,116.27 125.90,115.54 126.10,115.53 126.30,116.20 126.50,115.51 126.70,116.30 126.90,116.29 127.10,115.49 127.30,115.91 127.50,115.94 127.70,117.10 127.90,117.65 128.10,116.08 128.30,116.19 128.50,114.85 128.70,116.38 128.90,116.28 129.10,115.67 129.30,116.81 129.50,115.43 129.70,116.27 129.90,116.51 130.10,115.70 130.30,116.99 130.50,117.14 130.70,115.70 130.90,115.71 131.10,116.94 131.30,116.59 131.50,115.91 131.70,116.48 131.90,116.62 132.10,116.62 132.30,117.23 132.50,116.98 132.70,117.84 132.90,117.62 133.10,117.22 133.30,117.48 133.50,117.65 133.70,117.30 133.90,116.16 134.10,117.43 134.30,116.97 134.50,117.92 134.70,117.02 134.90,117.29 135.10,117.19 135.30,118.01 135.50,117.13 135.70,116.87 135.90,117.23 136.10,116.79 136.30,117.16 136.50,117.07 136.70,117.24 136.90,118.24 137.10,116.85 137.30,117.12 137.50,116.98 137.70,117.50 137.90,116.39 138.10,116.68 138.30,117.07 138.50,117.42 138.70,117.06 138.90,116.78 139.10,116.56 139.30,117.37 139.50,117.92 139.70,117.24 139.90,117.14 140.10,117.28 140.30,116.44 140.50,116.80 140.70,116.81 140.90,117.13 141.10,116.91 141.30,116.18 141.50,117.56 141.70,117.88 141.90,116.69 142.10,117.06 142.30,116.96 142.50,117.24 142.70,115.86 142.90,117.69 143.10,116.42 143.30,117.43 143.50,116.69 143.70,116.38 143.90,116.50 144.10,117.10 144.30,116.02 144.50,116.28 144.70,116.19 144.90,115.42 145.10,117.20 145.30,116.74 145.50,116.35 145.70,117.04 145.90,115.74 146.10,116.24 146.30,117.29 146.50,116.82 146.70,114.86 146.90,114.16 147.10,115.51 147.30,116.73 147.50,115.77 147.70,115.89 147.90,116.34 148.10,115.41 148.30,116.02 148.50,116.33 148.70,116.09 148.90,116.01 149.10,115.36 149.30,115.99 149.50,115.38 149.70,116.37 149.90,117.09 150.10,115.06 150.30,114.15 150.50,115.15 150.70,115.59 150.90,115.95 151.10,115.92 151.30,114.76 151.50,114.71 151.70,115.90 151.90,114.44 152.10,115.71 152.30,114.88 152.50,115.43 152.70,115.35 152.90,115.36 153.10,115.35 153.30,114.22 153.50,114.96 153.70,114.76 153.90,114.90 154.10,115.42 154.30,114.49 154.50,114.19 154.70,114.14 154.90,114.36 155.10,114.96 155.30,113.99 155.50,115.14 155.70,114.58 155.90,114.25 156.10,113.56 156.30,114.48 156.50,114.73 156.70,113.25 156.90,115.02 157.10,115.29 157.30,114.51 157.50,114.60 157.70,115.76 157.90,115.06 158.10,113.80 158.30,114.34 158.50,114.27 158.70,114.29 158.90,112.98 159.10,114.87 159.30,114.06 159.50,114.56 159.70,114.40 159.90,115.03 160.10,114.36 160.30,114.08 160.50,114.91 160.70,115.46 160.90,114.45 161.10,115.49 161.30,114.86 161.50,114.41 161.70,115.67 161.90,114.29 162.10,115.42 162.30,114.55 162.50,115.15 162.70,114.18 162.90,114.45 163.10,115.64 163.30,115.16 163.50,115.11 163.70,114.88 163.90,115.46 164.10,114.41 164.30,114.63 164.50,115.26 164.70,114.91 164.90,115.05 165.10,115.49 165.30,115.51 165.50,115.52 165.70,116.72 165.90,116.39 166.10,116.59 166.30,115.90 166.50,115.68 166.70,115.18 166.90,115.91 167.10,114.93 167.30,115.90 167.50,116.78 167.70,117.36 167.90,117.03 168.10,116.00 168.30,116.88 168.50,116.18 168.70,117.21 168.90,116.71 169.10,117.35 169.30,118.44 169.50,117.51 169.70,118.42 169.90,117.18 170.10,116.93 170.30,117.98 170.50,118.27 170.70,116.96 170.90,117.40 171.10,116.55 171.30,117.34 171.50,118.05 171.70,117.52 171.90,117.29 172.10,116.84 172.30,117.97 172.50,118.28 172.70,118.22 172.90,118.07 173.10,117.21 173.30,119.08 173.50,118.05 173.70,118.05 173.90,118.63 174.10,116.95 174.30,118.26 174.50,118.27 174.70,118.63 174.90,119.27 175.10,118.80 175.30,117.47 175.50,118.41 175.70,118.79 175.90,118.81 176.10,118.00 176.30,117.82 176.50,119.20 176.70,119.12 176.90,118.95 177.10,117.97 177.30,120.11 177.50,117.35 177.70,118.92 177.90,120.43 178.10,119.13 178.30,119.40 178.50,118.59 178.70,120.15 178.90,118.60 179.10,119.57 179.30,119.53 179.50,118.86 179.70,120.06 179.90,118.71 180.10,119.19 180.30,119.62 180.50,119.42 180.70,119.98 180.90,120.29 181.10,119.59 181.30,119.48 181.50,119.52 181.70,119.65 181.90,120.39 182.10,119.80 182.30,120.21 182.50,119.94 182.70,119.52 182.90,120.58 183.10,119.47 183.30,120.12 183.50,121.04 183.70,119.53 183.90,120.18 184.10,119.29 184.30,119.97 184.50,119.41 184.70,120.12 184.90,120.04 185.10,120.48 185.30,121.38 185.50,120.63 185.70,120.89 185.90,120.49 186.10,120.41 186.30,120.09 186.50,119.54 186.70,120.69 186.90,121.66 187.10,121.00 187.30,120.43 187.50,121.77 187.70,120.56 187.90,120.48 188.10,120.16 188.30,120.34 188.50,120.81 188.70,122.19 188.90,120.90 189.10,120.44 189.30,120.73 189.50,121.00 189.70,120.14 189.90,121.28 190.10,121.66 190.30,121.47 190.50,121.67 190.70,120.57 190.90,120.36 191.10,122.19 191.30,122.11 191.50,120.56 191.70,121.64 191.90,121.57 192.10,121.91 192.30,121.74 192.50,121.35 192.70,121.80 192.90,121.80 193.10,121.71 193.30,120.66 193.50,120.00 193.70,121.36 193.90,120.88 194.10,122.04 194.30,122.34 194.50,122.10 194.70,121.74 194.90,122.03 195.10,122.71 195.30,121.60 195.50,122.61 195.70,122.51 195.90,122.26 196.10,123.00 196.30,121.72 196.50,122.73 196.70,121.63 196.90,121.75 197.10,121.60 197.30,122.52 197.50,121.71 197.70,122.33 197.90,121.63 198.10,122.97 198.30,123.46 198.50,122.51 198.70,123.38 198.90,122.75 199.10,123.73 199.30,122.51 199.50,121.53 199.70,123.38 199.90,122.43 200.10,121.90 200.30,122.15 200.50,121.58 200.70,122.48 200.90,121.95 201.10,123.50 201.30,123.03 201.50,121.65 201.70,121.76 201.90,122.34 202.10,121.54 202.30,122.65 202.50,122.70 202.70,122.28 202.90,122.44 203.10,123.08 203.30,123.65 203.50,123.71 203.70,122.85 203.90,123.36 204.10,122.42 204.30,123.12 204.50,122.32 204.70,123.35 204.90,122.18 205.10,122.36 205.30,122.95 205.50,123.30 205.70,122.12 205.90,122.68 206.10,123.10 206.30,123.17 206.50,122.54 206.70,123.12 206.90,122.92 207.10,123.94 207.30,123.44 207.50,122.33 207.70,121.82 207.90,123.21 208.10,123.88 208.30,123.29 208.50,123.73 208.70,122.93 208.90,122.41 209.10,123.70 209.30,123.32 209.50,123.69 209.70,122.47 209.90,123.42 210.10,122.95 210.30,123.83 210.50,123.01 210.70,123.01 210.90,123.04 211.10,124.17 211.30,123.44 211.50,122.98 211.70,122.84 211.90,122.85 212.10,124.37 212.30,122.42 212.50,123.01 212.70,123.92 212.90,124.26 213.10,123.48 213.30,124.06 213.50,124.06 213.70,124.22 213.90,123.67 214.10,124.65 214.30,123.80 214.50,124.62 214.70,123.06 214.90,124.30 215.10,123.00 215.30,122.87 215.50,124.09 215.70,123.31 215.90,124.09 216.10,123.20 216.30,124.83 216.50,123.89 216.70,123.22 216.90,124.02 217.10,124.46 217.30,123.49 217.50,124.28 217.70,125.21 217.90,124.52 218.10,124.02 218.30,123.70 218.50,124.40 218.70,123.16 218.90,122.27 219.10,123.71 219.30,123.47 219.50,125.19 219.70,124.24 219.90,123.58 220.10,123.49 220.30,124.50 220.50,123.72 220.70,123.89 220.90,124.20 221.10,124.32 221.30,124.34 221.50,124.37 221.70,125.10 221.90,125.35 222.10,123.36 222.30,125.91 222.50,124.46 222.70,125.14 222.90,123.97 223.10,124.62 223.30,124.57 223.50,124.52 223.70,124.98 223.90,124.86 224.10,123.90 224.30,124.44 224.50,124.96 224.70,124.95 224.90,124.35 225.10,124.40 225.30,124.49 225.50,123.93 225.70,123.83 225.90,125.56 226.10,124.40 226.30,124.70 226.50,124.21 226.70,125.45 226.90,125.73 227.10,124.56 227.30,125.01 227.50,124.26 227.70,125.79 227.90,125.30 228.10,124.25 228.30,125.51 228.50,124.99 228.70,125.03 228.90,125.01 229.10,124.41 229.30,124.49 229.50,125.20 229.70,124.81 229.90,124.28 230.10,126.08 230.30,124.75 230.50,124.55 230.70,124.48 230.90,125.32 231.10,125.50 231.30,125.08 231.50,125.46 231.70,124.05 231.90,124.74 232.10,124.69 232.30,124.99 232.50,125.29 232.70,123.78 232.90,126.89 233.10,124.51 233.30,125.24 233.50,125.54 233.70,125.57 233.90,125.21 234.10,123.33 234.30,124.43 234.50,125.55 234.70,124.55 234.90,124.48 235.10,123.71 235.30,125.86 235.50,125.45 235.70,124.61 235.90,125.08 236.10,125.11 236.30,124.51 236.50,125.02 236.70,125.35 236.90,125.53 237.10,125.97 237.30,125.23 237.50,124.95 237.70,125.47 237.90,124.86 238.10,124.50 238.30,125.94 238.50,125.04 238.70,125.34 238.90,125.67 239.10,124.62 239.30,125.68 239.50,125.57 239.70,125.25 239.90,125.55 240.10,124.87 240.30,124.01 240.50,125.17 240.70,124.79 240.90,125.87 241.10,125.51 241.30,125.04 241.50,125.39 241.70,126.18 241.90,126.05 242.10,125.60 242.30,125.64 242.50,125.22 242.70,125.31 242.90,125.75 243.10,125.33 243.30,125.58 243.50,124.73 243.70,124.40 243.90,124.39 244.10,125.15 244.30,126.21 244.50,126.13 244.70,124.82 244.90,124.49 245.10,125.90 245.30,125.70 245.50,124.60 245.70,126.06 245.90,125.53 246.10,126.23 246.30,125.64 246.50,125.97 246.70,125.63 246.90,124.87 247.10,125.30 247.30,125.04 247.50,125.94 247.70,124.85 247.90,124.53 248.10,125.86 248.30,126.14 248.50,126.32 248.70,126.11 248.90,124.55 249.10,125.04 249.30,125.13 249.50,125.45 249.70,124.17 249.90,125.46 250.10,125.63 250.30,124.90 250.50,125.54 250.70,126.18 250.90,125.50 251.10,126.11 251.30,126.08 251.50,125.72 251.70,125.71 251.90,125.25 252.10,126.22 252.30,125.20 252.50,125.06 252.70,125.91 252.90,125.05 253.10,125.74 253.30,126.12 253.50,125.54 253.70,125.55 253.90,126.04 254.10,125.94 254.30,124.57 254.50,124.71 254.70,126.29 254.90,125.73 255.10,124.25 255.30,124.69 255.50,125.51 255.70,124.91 255.90,125.78 256.10,125.55 256.30,125.80 256.50,124.80 256.70,125.88 256.90,126.68 257.10,125.03 257.30,126.30 257.50,126.10 257.70,125.90 257.90,125.47 258.10,124.81 258.30,124.98 258.50,125.97 258.70,126.10 258.90,126.25 259.10,126.09 259.30,126.06 259.50,125.25 259.70,124.79 259.90,125.64 260.10,125.81 260.30,125.57 260.50,124.60 260.70,125.20 260.90,124.63 261.10,125.60 261.30,124.88 261.50,125.41 261.70,125.70 261.90,125.59 262.10,126.32 262.30,124.84 262.50,124.19 262.70,126.06 262.90,126.33 263.10,126.35 263.30,125.66 263.50,125.81 263.70,125.55 263.90,124.70 264.10,125.13 264.30,125.77 264.50,125.12 264.70,126.60 264.90,124.53 265.10,125.19 265.30,126.11 265.50,125.07 265.70,124.75 265.90,124.61 266.10,124.99 266.30,126.32 266.50,125.66 266.70,125.71 266.90,125.09 267.10,125.90 267.30,125.45 267.50,124.83 267.70,125.10 267.90,125.49 268.10,126.06 268.30,125.32 268.50,125.65 268.70,126.55 268.90,124.85 269.10,124.58 269.30,125.91 269.50,125.57 269.70,125.24 269.90,125.45 270.10,125.09 270.30,125.59 270.50,125.07 270.70,125.75 270.90,124.56 271.10,124.76 271.30,125.31 271.50,124.95 271.70,125.64 271.90,125.19 272.10,124.89 272.30,125.33 272.50,124.88 272.70,124.25 272.90,124.50 273.10,124.69 273.30,124.88 273.50,125.22 273.70,125.70 273.90,125.47 274.10,126.20 274.30,125.89 274.50,125.01 274.70,126.10 274.90,125.81 275.10,124.83 275.30,125.28 275.50,125.74 275.70,125.22 275.90,125.68 276.10,125.30 276.30,125.48 276.50,124.85 276.70,125.27 276.90,124.81 277.10,125.43 277.30,124.00 277.50,125.21 277.70,125.75 277.90,125.34 278.10,124.97 278.30,125.30 278.50,124.46 278.70,124.47 278.90,124.74 279.10,124.86 279.30,125.52 279.50,124.40 279.70,125.53 279.90,123.97 280.10,124.44 280.30,124.88 280.50,125.59 280.70,124.52 280.90,123.59 281.10,125.12 281.30,124.84 281.50,124.20 281.70,124.21 281.90,124.41 282.10,124.88 282.30,125.21 282.50,123.92 282.70,126.17 282.90,124.76 283.10,124.55 283.30,125.17 283.50,124.83 283.70,126.15 283.90,125.40 284.10,124.51 284.30,124.49 284.50,124.41 284.70,124.50 284.90,125.10 285.10,124.30 285.30,125.64 285.50,124.62 285.70,124.57 285.90,125.22 286.10,123.45 286.30,124.06 286.50,124.98 286.70,124.61 286.90,124.59 287.10,124.82 287.30,124.22 287.50,124.46 287.70,123.74 287.90,123.42 288.10,125.29 288.30,123.97 288.50,124.09 288.70,125.34 288.90,125.13 289.10,124.17 289.30,124.15 289.50,124.41 289.70,123.88 289.90,124.77 290.10,124.52 290.30,124.50 290.50,124.86 290.70,124.83 290.90,125.49 291.10,125.29 291.30,123.34 291.50,124.89" fill="none" stroke="#000" stroke-width="1.35" stroke-linejoin="round"/>
<polyline points="348.20,85.39 348.35,85.94 348.50,88.03 348.65,86.92 348.80,84.35 348.95,86.20 349.10,85.52 349.25,86.40 349.40,84.44 349.55,86.52 349.70,86.52 349.85,88.03 350.00,86.63 350.15,86.85 350.30,84.61 350.45,88.81 350.60,84.14 350.75,87.53 350.90,85.93 351.05,85.31 351.20,85.56 351.35,85.55 351.50,86.73 351.65,86.18 351.80,87.96 351.95,84.25 352.10,86.29 352.25,85.29 352.40,87.14 352.55,81.03 352.70,85.84 352.85,86.42 353.00,84.48 353.15,87.21 353.30,86.25 353.45,87.13 353.60,87.02 353.75,84.78 353.90,84.92 354.05,85.24 354.20,86.52 354.35,86.57 354.50,84.74 354.65,84.78 354.80,84.49 354.95,84.66 355.10,84.98 355.25,85.00 355.40,87.37 355.55,84.32 355.70,84.02 355.85,85.11 356.00,82.03 356.15,83.84 356.30,84.11 356.45,84.83 356.60,82.28 356.75,85.24 356.90,83.13 357.05,83.64 357.20,84.34 357.35,84.08 357.50,84.52 357.65,83.52 357.80,83.34 357.95,83.80 358.10,82.38 358.25,85.05 358.40,82.89 358.55,82.48 358.70,86.45 358.85,84.10 359.00,83.08 359.15,86.71 359.30,84.38 359.45,86.13 359.60,84.13 359.75,84.93 359.90,83.42 360.05,83.27 360.20,84.43 360.35,85.54 360.50,86.62 360.65,88.54 360.80,84.74 360.95,87.12 361.10,85.40 361.25,85.99 361.40,84.58 361.55,84.67 361.70,85.53 361.85,85.15 362.00,86.55 362.15,85.85 362.30,88.10 362.45,86.94 362.60,87.02 362.75,88.17 362.90,87.54 363.05,86.98 363.20,86.98 363.35,87.00 363.50,88.39 363.65,88.13 363.80,87.72 363.95,88.26 364.10,86.84 364.25,88.06 364.40,86.00 364.55,89.11 364.70,87.78 364.85,87.94 365.00,89.25 365.15,87.85 365.30,87.64 365.45,89.29 365.60,88.16 365.75,87.08 365.90,88.63 366.05,86.33 366.20,90.08 366.35,88.13 366.50,88.42 366.65,90.91 366.80,90.84 366.95,88.65 367.10,89.26 367.25,89.82 367.40,90.52 367.55,88.57 367.70,88.91 367.85,90.15 368.00,89.14 368.15,89.72 368.30,89.60 368.45,87.72 368.60,88.06 368.75,86.13 368.90,88.78 369.05,90.57 369.20,87.91 369.35,90.51 369.50,90.28 369.65,89.14 369.80,89.21 369.95,89.33 370.10,88.31 370.25,88.96 370.40,89.23 370.55,89.96 370.70,90.17 370.85,88.48 371.00,90.21 371.15,88.44 371.30,89.11 371.45,89.71 371.60,89.28 371.75,89.16 371.90,89.60 372.05,88.69 372.20,88.58 372.35,89.08 372.50,90.36 372.65,89.19 372.80,91.39 372.95,89.54 373.10,86.03 373.25,88.82 373.40,91.13 373.55,89.31 373.70,88.82 373.85,88.34 374.00,90.76 374.15,90.40 374.30,90.04 374.45,89.77 374.60,90.88 374.75,90.20 374.90,87.95 375.05,90.15 375.20,89.49 375.35,89.18 375.50,90.14 375.65,89.33 375.80,86.07 375.95,91.01 376.10,90.44 376.25,89.17 376.40,88.89 376.55,89.55 376.70,87.89 376.85,89.64 377.00,89.05 377.15,88.91 377.30,88.28 377.45,88.55 377.60,90.52 377.75,90.77 377.90,89.85 378.05,89.25 378.20,88.33 378.35,90.09 378.50,91.07 378.65,87.52 378.80,90.59 378.95,86.92 379.10,88.93 379.25,89.72 379.40,87.80 379.55,85.63 379.70,89.51 379.85,90.27 380.00,88.78 380.15,90.78 380.30,88.45 380.45,91.24 380.60,89.44 380.75,89.57 380.90,89.99 381.05,89.67 381.20,91.35 381.35,91.75 381.50,90.64 381.65,89.14 381.80,88.03 381.95,88.50 382.10,89.34 382.25,89.22 382.40,89.29 382.55,89.35 382.70,89.89 382.85,87.86 383.00,88.22 383.15,90.59 383.30,90.28 383.45,88.77 383.60,90.79 383.75,88.62 383.90,89.09 384.05,87.36 384.20,90.30 384.35,89.36 384.50,90.55 384.65,90.16 384.80,89.49 384.95,89.57 385.10,90.71 385.25,89.22 385.40,89.23 385.55,89.48 385.70,90.29 385.85,90.43 386.00,91.52 386.15,89.33 386.30,90.82 386.45,88.71 386.60,90.10 386.75,89.58 386.90,91.35 387.05,90.11 387.20,88.95 387.35,90.08 387.50,89.82 387.65,89.09 387.80,89.11 387.95,88.39 388.10,92.45 388.25,89.55 388.40,90.47 388.55,88.10 388.70,88.18 388.85,89.19 389.00,89.18 389.15,90.21 389.30,88.20 389.45,89.88 389.60,90.93 389.75,88.24 389.90,90.23 390.05,88.15 390.20,89.56 390.35,89.56 390.50,91.05 390.65,88.35 390.80,89.27 390.95,90.21 391.10,87.74 391.25,89.00 391.40,88.02 391.55,88.18 391.70,89.67 391.85,89.66 392.00,91.70 392.15,90.35 392.30,90.22 392.45,88.59 392.60,88.41 392.75,88.86 392.90,86.18 393.05,90.47 393.20,87.88 393.35,87.42 393.50,88.05 393.65,89.48 393.80,89.85 393.95,88.04 394.10,88.90 394.25,88.33 394.40,87.26 394.55,88.51 394.70,88.32 394.85,86.57 395.00,89.44 395.15,86.47 395.30,88.43 395.45,86.98 395.60,87.21 395.75,87.30 395.90,88.81 396.05,86.63 396.20,87.76 396.35,89.64 396.50,87.13 396.65,87.83 396.80,88.56 396.95,87.14 397.10,88.27 397.25,86.98 397.40,88.44 397.55,87.70 397.70,86.56 397.85,89.11 398.00,87.41 398.15,87.16 398.30,86.40 398.45,86.87 398.60,87.24 398.75,87.49 398.90,88.48 399.05,85.75 399.20,86.78 399.35,88.46 399.50,87.29 399.65,87.49 399.80,88.77 399.95,87.33 400.10,87.42 400.25,86.81 400.40,88.78 400.55,87.94 400.70,85.92 400.85,88.04 401.00,85.35 401.15,87.80 401.30,87.29 401.45,86.31 401.60,85.99 401.75,84.39 401.90,87.20 402.05,86.17 402.20,85.90 402.35,87.02 402.50,85.41 402.65,85.45 402.80,85.28 402.95,84.50 403.10,88.68 403.25,85.70 403.40,85.48 403.55,86.84 403.70,82.23 403.85,85.70 404.00,85.70 404.15,84.53 404.30,86.10 404.45,83.24 404.60,85.47 404.75,86.41 404.90,82.84 405.05,83.65 405.20,85.05 405.35,85.14 405.50,84.36 405.65,85.44 405.80,85.24 405.95,83.37 406.10,84.73 406.25,83.33 406.40,82.36 406.55,81.91 406.70,85.77 406.85,84.39 407.00,86.71 407.15,82.75 407.30,83.96 407.45,84.70 407.60,84.09 407.75,84.78 407.90,84.32 408.05,83.39 408.20,81.38 408.35,82.90 408.50,85.92 408.65,84.77 408.80,85.42 408.95,83.12 409.10,83.52 409.25,82.68 409.40,84.09 409.55,83.66 409.70,84.05 409.85,85.51 410.00,82.46 410.15,84.22 410.30,81.70 410.45,84.54 410.60,82.70 410.75,83.07 410.90,83.25 411.05,84.95 411.20,82.95 411.35,82.35 411.50,81.50 411.65,83.14 411.80,81.77 411.95,82.12 412.10,82.62 412.25,83.38 412.40,81.71 412.55,83.27 412.70,84.50 412.85,80.64 413.00,83.91 413.15,84.78 413.30,81.52 413.45,82.87 413.60,80.49 413.75,82.44 413.90,81.60 414.05,82.28 414.20,80.79 414.35,80.84 414.50,81.21 414.65,80.83 414.80,80.88 414.95,81.30 415.10,80.16 415.25,81.22 415.40,81.89 415.55,78.52 415.70,81.41 415.85,80.22 416.00,79.70 416.15,79.35 416.30,79.85 416.45,79.89 416.60,81.10 416.75,79.11 416.90,81.76 417.05,79.46 417.20,81.15 417.35,81.55 417.50,78.70 417.65,81.35 417.80,82.60 417.95,79.38 418.10,80.52 418.25,79.58 418.40,79.74 418.55,79.32 418.70,78.85 418.85,80.23 419.00,80.32 419.15,79.16 419.30,80.89 419.45,80.27 419.60,79.70 419.75,77.88 419.90,80.94 420.05,80.13 420.20,75.81 420.35,76.95 420.50,77.60 420.65,79.21 420.80,79.47 420.95,77.47 421.10,78.00 421.25,78.43 421.40,75.88 421.55,78.04 421.70,76.81 421.85,77.28 422.00,76.86 422.15,75.32 422.30,75.41 422.45,76.56 422.60,76.52 422.75,75.90 422.90,77.40 423.05,75.49 423.20,74.27 423.35,75.21 423.50,75.28 423.65,75.18 423.80,76.66 423.95,75.69 424.10,76.23 424.25,75.53 424.40,74.39 424.55,75.75 424.70,73.95 424.85,74.44 425.00,72.69 425.15,73.93 425.30,73.22 425.45,73.94 425.60,75.62 425.75,76.17 425.90,74.27 426.05,72.76 426.20,73.68 426.35,72.75 426.50,71.49 426.65,72.02 426.80,71.60 426.95,70.97 427.10,73.37 427.25,70.70 427.40,70.58 427.55,71.96 427.70,69.96 427.85,69.19 428.00,69.40 428.15,70.97 428.30,70.65 428.45,70.37 428.60,69.19 428.75,68.41 428.90,70.64 429.05,67.34 429.20,68.79 429.35,67.12 429.50,68.16 429.65,68.31 429.80,69.97 429.95,64.31 430.10,69.79 430.25,66.58 430.40,67.98 430.55,68.48 430.70,66.17 430.85,66.90 431.00,67.49 431.15,66.47 431.30,65.44 431.45,66.51 431.60,66.21 431.75,63.81 431.90,67.53 432.05,65.78 432.20,61.95 432.35,63.94 432.50,67.26 432.65,66.88 432.80,64.87 432.95,61.96 433.10,63.77 433.25,65.37 433.40,64.25 433.55,63.03 433.70,62.27 433.85,64.25 434.00,62.60 434.15,63.14 434.30,63.18 434.45,67.43 434.60,62.71 434.75,62.23 434.90,59.12 435.05,63.02 435.20,62.49 435.35,60.99 435.50,57.55 435.65,59.77 435.80,60.46 435.95,63.15 436.10,60.76 436.25,60.83 436.40,60.65 436.55,61.17 436.70,57.36 436.85,57.54 437.00,56.83 437.15,57.90 437.30,57.57 437.45,58.00 437.60,56.11 437.75,57.51 437.90,55.88 438.05,60.02 438.20,55.87 438.35,60.18 438.50,58.59 438.65,54.13 438.80,58.85 438.95,56.31 439.10,52.85 439.25,55.80 439.40,54.49 439.55,54.88 439.70,52.80 439.85,53.73 440.00,54.17 440.15,52.99 440.30,52.06 440.45,52.45 440.60,50.90 440.75,52.63 440.90,47.87 441.05,53.83 441.20,51.30 441.35,51.63 441.50,51.91 441.65,48.33 441.80,53.50 441.95,47.88 442.10,50.04 442.25,49.49 442.40,50.72 442.55,48.30 442.70,45.75 442.85,48.16 443.00,43.39 443.15,46.65 443.30,45.90 443.45,48.79 443.60,45.50 443.75,44.88 443.90,44.04 444.05,43.53 444.20,43.66 444.35,45.17 444.50,41.66 444.65,43.09 444.80,40.64 444.95,42.37 445.10,42.51 445.25,39.79 445.40,40.48 445.55,41.19 445.70,41.90 445.85,41.79 446.00,39.60 446.15,37.69 446.30,36.23 446.45,39.90 446.60,40.56 446.75,38.42 446.90,40.10 447.05,36.28 447.20,36.02 447.35,39.06 447.50,34.27 447.65,36.74 447.80,36.05 447.95,35.36 448.10,37.83 448.25,32.98 448.40,33.46 448.55,30.24 448.70,31.75 448.85,32.39 449.00,32.31 449.15,32.34 449.30,32.96 449.45,30.98 449.60,28.41 449.75,32.00 449.90,32.30 450.05,26.83 450.20,29.88 450.35,34.37 450.50,33.04 450.65,33.15 450.80,32.41 450.95,31.48 451.10,30.33 451.25,32.29 451.40,30.93 451.55,30.53 451.70,31.34 451.85,31.25 452.00,33.03 452.15,29.77 452.30,35.99 452.45,29.78 452.60,30.88 452.75,33.38 452.90,30.26 453.05,30.96 453.20,31.96 453.35,26.74 453.50,31.28 453.65,30.64 453.80,32.12 453.95,33.67 454.10,34.16 454.25,35.95 454.40,36.12 454.55,35.69 454.70,34.10 454.85,36.32 455.00,33.07 455.15,34.97 455.30,37.98 455.45,37.18 455.60,33.71 455.75,35.44 455.90,38.36 456.05,38.18 456.20,39.30 456.35,34.76 456.50,35.99 456.65,38.11 456.80,37.27 456.95,39.27 457.10,39.76 457.25,40.74 457.40,40.36 457.55,41.95 457.70,42.74 457.85,42.13 458.00,40.27 458.15,44.87 458.30,43.51 458.45,44.27 458.60,44.26 458.75,41.75 458.90,45.72 459.05,44.09 459.20,43.56 459.35,48.01 459.50,45.83 459.65,47.18 459.80,48.54 459.95,50.09 460.10,45.01 460.25,47.11 460.40,49.74 460.55,48.00 460.70,44.29 460.85,50.02 461.00,50.51 461.15,51.74 461.30,51.20 461.45,50.48 461.60,51.81 461.75,51.72 461.90,51.27 462.05,52.71 462.20,53.12 462.35,51.28 462.50,54.66 462.65,54.60 462.80,54.79 462.95,49.66 463.10,54.26 463.25,54.13 463.40,53.04 463.55,55.66 463.70,52.75 463.85,57.08 464.00,56.03 464.15,54.90 464.30,57.99 464.45,56.74 464.60,56.73 464.75,54.47 464.90,57.36 465.05,58.83 465.20,58.53 465.35,55.12 465.50,59.22 465.65,59.65 465.80,58.64 465.95,56.91 466.10,55.35 466.25,56.31 466.40,56.88 466.55,58.22 466.70,58.71 466.85,56.88 467.00,55.65 467.15,57.52 467.30,56.25 467.45,60.23 467.60,56.53 467.75,59.11 467.90,59.67 468.05,57.09 468.20,60.05 468.35,58.42 468.50,57.52 468.65,57.34 468.80,59.05 468.95,60.37 469.10,56.06 469.25,59.76 469.40,58.66 469.55,57.80 469.70,58.76 469.85,58.91 470.00,58.84 470.15,60.11 470.30,57.61 470.45,61.80 470.60,60.22 470.75,58.04 470.90,56.08 471.05,58.85 471.20,58.27 471.35,59.94 471.50,59.89 471.65,61.62 471.80,58.61 471.95,59.93 472.10,58.13 472.25,58.18 472.40,60.94 472.55,58.46 472.70,58.48 472.85,58.08 473.00,59.04 473.15,59.40 473.30,58.32 473.45,56.77 473.60,58.91 473.75,57.16 473.90,57.80 474.05,58.60 474.20,58.59 474.35,54.72 474.50,60.55 474.65,59.10 474.80,60.65 474.95,61.37 475.10,56.10 475.25,55.47 475.40,57.50 475.55,58.34 475.70,55.99 475.85,56.08 476.00,57.95 476.15,54.81 476.30,56.59 476.45,57.34 476.60,55.11 476.75,56.46 476.90,54.91 477.05,52.49 477.20,53.86 477.35,54.16 477.50,53.75 477.65,54.09 477.80,54.44 477.95,54.06 478.10,53.67 478.25,52.51 478.40,52.60 478.55,52.12 478.70,51.55 478.85,54.32 479.00,49.01 479.15,52.04 479.30,48.87 479.45,50.19 479.60,52.07 479.75,50.08 479.90,52.39 480.05,48.40 480.20,49.08 480.35,48.17 480.50,48.79 480.65,47.86 480.80,47.32 480.95,47.61 481.10,48.77 481.25,46.76 481.40,46.12 481.55,45.06 481.70,43.87 481.85,42.15 482.00,42.27 482.15,43.52 482.30,39.80 482.45,43.51 482.60,41.22 482.75,39.86 482.90,40.01 483.05,41.54 483.20,40.55 483.35,39.83 483.50,41.79 483.65,42.20 483.80,35.43 483.95,38.51 484.10,35.04 484.25,33.34 484.40,34.17 484.55,36.24 484.70,33.31 484.85,32.42 485.00,35.18 485.15,33.05 485.30,31.50 485.45,38.20 485.60,31.64 485.75,29.09 485.90,28.12 486.05,29.07 486.20,29.95 486.35,31.24 486.50,31.03 486.65,29.77 486.80,27.59 486.95,31.63 487.10,30.43 487.25,28.69 487.40,28.88 487.55,32.00 487.70,32.78 487.85,34.20 488.00,31.23 488.15,37.41 488.30,31.53 488.45,35.33 488.60,38.41 488.75,38.56 488.90,35.78 489.05,39.12 489.20,40.85 489.35,40.75 489.50,38.63 489.65,43.91 489.80,39.27 489.95,42.95 490.10,42.05 490.25,44.06 490.40,45.19 490.55,47.51 490.70,45.68 490.85,49.03 491.00,51.71 491.15,50.78 491.30,52.46 491.45,53.23 491.60,52.35 491.75,53.83 491.90,55.32 492.05,56.79 492.20,59.91 492.35,60.13 492.50,57.86 492.65,58.75 492.80,58.74 492.95,57.70 493.10,63.71 493.25,63.40 493.40,60.70 493.55,64.25 493.70,68.27 493.85,66.43 494.00,67.18 494.15,67.48 494.30,66.85 494.45,66.98 494.60,68.08 494.75,69.99 494.90,70.05 495.05,71.82 495.20,73.74 495.35,72.72 495.50,73.54 495.65,72.49 495.80,71.76 495.95,79.96 496.10,75.29 496.25,76.32 496.40,74.77 496.55,73.53 496.70,77.74 496.85,73.77 497.00,76.64 497.15,76.55 497.30,77.83 497.45,78.89 497.60,79.22 497.75,75.92 497.90,80.00 498.05,76.71 498.20,80.12 498.35,79.01 498.50,78.41 498.65,79.39 498.80,78.67 498.95,80.49 499.10,81.87 499.25,81.92 499.40,81.23 499.55,82.71 499.70,82.20 499.85,84.37 500.00,83.31 500.15,81.49 500.30,82.05 500.45,81.68 500.60,82.41 500.75,82.76 500.90,83.91 501.05,84.18 501.20,83.49 501.35,84.08 501.50,82.87 501.65,83.24 501.80,81.15 501.95,83.25 502.10,83.71 502.25,87.39 502.40,82.96 502.55,84.72 502.70,84.37 502.85,83.04 503.00,85.26 503.15,85.07 503.30,83.47 503.45,82.56 503.60,85.27 503.75,83.78 503.90,86.29 504.05,85.29 504.20,86.31 504.35,85.44 504.50,87.64 504.65,86.75 504.80,87.79 504.95,86.26 505.10,85.04 505.25,84.67 505.40,85.79 505.55,86.77 505.70,85.80 505.85,89.38 506.00,86.59 506.15,87.25 506.30,86.90 506.45,85.44 506.60,88.14 506.75,87.74 506.90,88.05 507.05,86.07 507.20,87.21 507.35,87.21 507.50,88.63 507.65,85.80 507.80,88.18 507.95,88.91 508.10,87.05 508.25,86.66 508.40,89.12 508.55,87.95 508.70,88.99 508.85,88.61 509.00,89.01 509.15,87.65 509.30,85.50 509.45,88.60 509.60,87.20 509.75,88.70 509.90,87.44 510.05,89.90 510.20,87.82 510.35,89.06 510.50,89.41 510.65,88.10 510.80,88.59 510.95,88.23 511.10,86.06 511.25,89.97 511.40,87.31 511.55,86.60 511.70,87.82 511.85,88.56 512.00,88.51 512.15,88.08 512.30,87.97 512.45,86.09 512.60,89.23 512.75,90.50 512.90,87.74 513.05,86.55 513.20,89.45 513.35,88.43 513.50,84.14 513.65,87.80 513.80,87.02 513.95,87.35 514.10,90.95 514.25,89.83 514.40,88.54 514.55,88.75 514.70,90.52 514.85,87.50 515.00,89.59 515.15,88.03 515.30,89.71 515.45,89.02 515.60,87.92 515.75,89.98 515.90,89.40 516.05,90.87 516.20,88.32 516.35,88.94 516.50,88.01 516.65,90.18 516.80,87.93 516.95,88.78 517.10,90.28 517.25,89.40 517.40,89.13 517.55,89.11 517.70,89.19 517.85,89.54 518.00,88.46 518.15,86.55 518.30,90.33 518.45,87.61 518.60,90.91 518.75,89.14 518.90,92.43 519.05,90.16 519.20,89.30 519.35,89.87 519.50,87.23 519.65,89.02 519.80,88.41 519.95,88.84 520.10,86.49 520.25,86.32 520.40,89.64 520.55,88.87 520.70,88.31 520.85,88.70 521.00,88.07 521.15,88.26 521.30,89.59 521.45,88.54 521.60,89.60 521.75,88.00 521.90,86.74 522.05,87.16 522.20,88.64 522.35,87.52 522.50,88.36 522.65,88.23 522.80,89.86 522.95,89.76 523.10,90.05 523.25,87.93 523.40,89.19 523.55,90.27 523.70,89.01 523.85,88.72 524.00,86.86 524.15,89.76 524.30,89.01 524.45,89.95 524.60,88.64 524.75,91.17 524.90,88.78 525.05,87.41 525.20,89.05 525.35,89.37 525.50,90.28 525.65,88.27 525.80,88.20 525.95,88.51 526.10,88.37 526.25,86.40 526.40,89.64 526.55,90.25 526.70,87.96 526.85,87.70 527.00,88.66 527.15,87.90 527.30,89.73 527.45,88.12 527.60,89.53 527.75,87.42 527.90,87.23 528.05,87.07 528.20,87.22 528.35,89.33 528.50,89.81 528.65,89.01 528.80,89.09 528.95,86.34 529.10,90.12 529.25,87.45 529.40,90.34 529.55,91.60 529.70,88.93 529.85,89.56 530.00,89.56 530.15,87.36 530.30,87.57 530.45,88.08 530.60,89.03 530.75,89.82 530.90,88.99 531.05,90.11 531.20,88.29 531.35,87.26 531.50,88.90 531.65,88.80 531.80,87.26 531.95,90.04 532.10,87.78 532.25,88.05 532.40,89.12 532.55,87.65 532.70,89.58 532.85,89.31 533.00,89.39 533.15,88.87 533.30,88.34 533.45,88.02 533.60,89.23 533.75,90.43 533.90,89.78 534.05,89.31 534.20,90.03 534.35,90.41 534.50,87.48 534.65,88.86 534.80,90.29 534.95,88.18 535.10,88.39 535.25,89.61 535.40,88.67 535.55,90.29 535.70,88.57 535.85,89.60 536.00,91.77 536.15,90.23 536.30,87.40 536.45,87.75 536.60,87.79 536.75,88.88 536.90,87.35 537.05,89.56 537.20,90.88 537.35,90.70 537.50,88.07 537.65,88.61 537.80,88.59 537.95,87.99 538.10,90.84 538.25,88.15 538.40,87.67 538.55,89.33 538.70,89.30 538.85,90.65 539.00,90.66 539.15,88.71 539.30,86.55 539.45,89.68 539.60,89.83 539.75,90.94 539.90,87.14 540.05,87.60 540.20,90.67 540.35,90.74 540.50,90.37 540.65,88.88 540.80,90.36 540.95,88.28 541.10,85.81 541.25,88.83 541.40,89.01 541.55,89.80 541.70,90.13 541.85,86.91 542.00,89.21 542.15,89.44 542.30,87.46 542.45,88.59 542.60,88.95 542.75,89.39 542.90,87.91 543.05,88.21 543.20,87.64 543.35,89.26 543.50,88.51 543.65,88.22 543.80,89.60 543.95,88.69 544.10,87.53 544.25,90.16 544.40,89.98 544.55,89.40 544.70,87.71 544.85,90.13 545.00,88.22 545.15,86.78 545.30,88.74 545.45,90.91 545.60,88.38 545.75,89.54 545.90,90.42 546.05,89.09 546.20,88.53 546.35,88.90 546.50,89.54 546.65,88.32 546.80,89.28 546.95,89.51 547.10,88.47 547.25,89.69 547.40,89.52 547.55,88.53 547.70,88.69 547.85,89.02 548.00,88.73 548.15,88.66 548.30,87.76 548.45,89.02 548.60,89.72 548.75,89.61 548.90,87.99 549.05,89.53 549.20,89.58 549.35,87.88 549.50,89.48 549.65,88.71 549.80,88.50 549.95,89.17 550.10,88.68 550.25,86.44 550.40,89.14 550.55,87.67 550.70,88.81 550.85,89.66 551.00,88.65 551.15,88.42 551.30,89.06 551.45,89.46 551.60,87.99 551.75,88.21 551.90,89.46 552.05,90.67 552.20,88.91 552.35,89.88 552.50,88.10 552.65,88.92 552.80,88.99 552.95,87.49 553.10,88.89 553.25,88.70 553.40,86.10 553.55,88.81 553.70,89.22 553.85,89.16 554.00,89.25 554.15,87.67 554.30,88.08 554.45,88.68 554.60,87.93 554.75,88.37 554.90,90.22 555.05,87.91 555.20,88.51 555.35,90.89 555.50,88.74 555.65,87.79 555.80,89.17 555.95,89.09 556.10,89.05 556.25,87.09 556.40,89.52 556.55,89.33 556.70,91.17 556.85,89.67 557.00,88.47 557.15,89.29 557.30,89.68 557.45,88.80 557.60,88.92 557.75,90.46 557.90,89.51 558.05,89.54 558.20,87.94 558.35,89.46 558.50,86.93 558.65,90.35 558.80,88.51 558.95,89.71 559.10,90.55 559.25,87.85 559.40,90.30 559.55,89.29 559.70,90.30 559.85,88.65 560.00,88.30 560.15,90.46 560.30,89.52 560.45,89.12 560.60,87.82 560.75,90.50 560.90,88.70 561.05,88.83 561.20,88.32 561.35,89.08 561.50,89.71 561.65,89.00 561.80,88.97 561.95,88.46 562.10,90.68 562.25,90.82 562.40,88.74 562.55,88.10 562.70,89.34 562.85,87.30 563.00,89.32 563.15,89.35 563.30,89.23 563.45,90.78 563.60,91.04 563.75,89.54 563.90,88.66 564.05,90.17 564.20,90.29 564.35,87.76 564.50,88.26 564.65,88.77 564.80,87.25 564.95,87.85 565.10,90.82 565.25,87.69 565.40,89.97 565.55,88.18 565.70,90.13 565.85,89.40 566.00,90.03 566.15,87.55 566.30,89.37 566.45,88.44 566.60,89.88 566.75,89.83 566.90,89.24 567.05,88.92 567.20,89.04 567.35,89.33 567.50,88.50 567.65,88.58 567.80,88.36 567.95,87.92 568.10,90.18 568.25,87.63 568.40,90.46 568.55,89.82 568.70,87.21 568.85,87.07 569.00,89.08 569.15,87.90 569.30,89.20 569.45,90.08 569.60,89.44 569.75,88.82 569.90,88.85 570.05,90.64 570.20,88.66 570.35,90.93 570.50,91.27 570.65,88.67 570.80,89.39 570.95,90.92 571.10,88.32 571.25,89.54 571.40,90.22 571.55,87.96 571.70,89.49 571.85,89.23 572.00,88.52 572.15,90.76 572.30,88.95 572.45,91.56 572.60,89.87 572.75,88.34 572.90,89.38 573.05,88.27 573.20,89.98 573.35,89.81 573.50,87.82 573.65,88.65 573.80,89.61 573.95,89.16 574.10,88.04 574.25,90.27 574.40,90.56 574.55,87.49 574.70,90.68 574.85,86.88 575.00,88.93 575.15,88.35 575.30,88.47 575.45,89.26 575.60,87.81 575.75,88.95 575.90,90.87 576.05,89.55 576.20,90.66 576.35,89.99 576.50,87.30 576.65,90.97 576.80,89.97 576.95,89.76 577.10,88.64 577.25,88.49 577.40,87.92 577.55,88.88 577.70,89.17 577.85,88.88 578.00,88.88 578.15,86.95 578.30,88.23 578.45,88.19 578.60,89.35 578.75,88.54 578.90,88.54 579.05,89.12 579.20,88.51 579.35,88.71 579.50,90.19 579.65,88.84 579.80,88.04 579.95,89.65 580.10,89.87 580.25,89.68 580.40,87.59 580.55,90.01 580.70,89.05 580.85,89.14 581.00,89.09 581.15,89.49 581.30,89.52 581.45,90.58 581.60,89.26 581.75,88.91 581.90,89.69 582.05,88.89 582.20,90.17 582.35,89.16 582.50,89.79 582.65,88.45 582.80,90.05 582.95,89.66 583.10,88.09 583.25,88.59 583.40,89.08 583.55,87.58 583.70,87.83 583.85,89.50 584.00,89.52 584.15,92.21 584.30,87.61 584.45,88.58 584.60,86.81 584.75,90.83 584.90,87.56 585.05,88.70 585.20,91.01 585.35,90.47 585.50,88.03 585.65,91.35 585.80,89.42 585.95,87.85 586.10,89.22 586.25,89.61 586.40,89.60 586.55,86.66 586.70,90.88 586.85,87.21 587.00,88.69 587.15,90.44 587.30,89.33 587.45,88.87 587.60,88.26 587.75,89.52 587.90,90.37 588.05,88.31 588.20,89.35 588.35,88.50 588.50,88.45 588.65,86.69 588.80,89.17 588.95,89.90 589.10,88.74 589.25,91.42 589.40,89.09 589.55,90.21 589.70,89.06 589.85,88.52 590.00,88.38 590.15,89.00 590.30,89.22 590.45,88.07 590.60,88.74 590.75,87.48 590.90,87.47 591.05,89.59 591.20,89.29 591.35,89.84 591.50,89.05 591.65,89.16 591.80,90.84 591.95,88.01 592.10,89.20 592.25,90.56 592.40,91.04 592.55,89.48 592.70,88.72 592.85,87.76 593.00,88.71 593.15,89.03 593.30,88.89 593.45,89.40 593.60,89.46 593.75,88.36 593.90,86.86 594.05,88.54 594.20,89.31 594.35,90.57 594.50,87.12 594.65,89.97 594.80,88.53 594.95,89.99 595.10,90.81 595.25,89.35 595.40,87.61 595.55,88.37 595.70,89.19 595.85,88.46 596.00,88.73 596.15,87.98 596.30,88.56 596.45,88.14 596.60,89.70 596.75,89.11 596.90,89.57 597.05,87.07 597.20,88.31 597.35,88.00 597.50,88.32 597.65,87.85 597.80,88.01 597.95,90.43 598.10,88.48 598.25,87.44 598.40,88.45 598.55,91.12 598.70,89.50 598.85,87.78 599.00,88.49 599.15,88.67 599.30,88.78 599.45,86.80 599.60,87.75 599.75,88.56 599.90,86.92 600.05,88.54 600.20,88.80 600.35,89.54 600.50,89.84 600.65,88.53 600.80,88.96 600.95,89.43 601.10,89.78 601.25,88.79 601.40,87.92 601.55,89.33 601.70,89.60 601.85,88.86 602.00,89.31 602.15,90.37 602.30,88.17 602.45,87.96 602.60,87.56 602.75,89.06 602.90,89.69 603.05,88.16 603.20,90.59 603.35,88.08 603.50,88.97 603.65,88.57 603.80,90.14 603.95,88.02 604.10,90.41 604.25,88.50 604.40,87.27 604.55,88.08 604.70,88.50 604.85,90.43 605.00,88.16 605.15,88.65 605.30,90.84 605.45,88.82 605.60,87.99 605.75,87.87 605.90,87.01 606.05,89.01 606.20,89.91 606.35,88.25 606.50,87.52 606.65,88.91 606.80,88.62 606.95,88.46 607.10,89.07 607.25,88.63 607.40,88.21 607.55,89.64 607.70,86.63 607.85,87.39 608.00,88.28 608.15,87.14 608.30,90.14 608.45,86.25 608.60,89.29 608.75,89.14 608.90,88.90 609.05,88.98 609.20,87.93 609.35,87.77 609.50,90.01 609.65,88.36 609.80,86.97 609.95,87.21 610.10,86.89 610.25,88.79 610.40,89.71 610.55,88.17 610.70,88.65 610.85,87.96 611.00,89.43" fill="none" stroke="#ff0000" stroke-width="1.0" stroke-linejoin="round"/>
<polyline points="348.20,198.56 348.35,198.06 348.50,199.10 348.65,200.23 348.80,200.44 348.95,199.46 349.10,198.83 349.25,197.71 349.40,200.95 349.55,200.95 349.70,199.65 349.85,198.21 350.00,198.48 350.15,200.94 350.30,199.60 350.45,195.76 350.60,199.34 350.75,198.31 350.90,198.83 351.05,198.97 351.20,198.76 351.35,199.98 351.50,199.39 351.65,198.89 351.80,199.85 351.95,200.26 352.10,197.90 352.25,199.23 352.40,198.55 352.55,199.32 352.70,198.26 352.85,199.52 353.00,199.47 353.15,199.22 353.30,198.51 353.45,199.14 353.60,198.48 353.75,198.23 353.90,199.75 354.05,198.48 354.20,200.67 354.35,200.24 354.50,197.65 354.65,199.82 354.80,198.51 354.95,199.60 355.10,199.62 355.25,197.68 355.40,199.36 355.55,199.05 355.70,200.52 355.85,198.47 356.00,200.31 356.15,198.56 356.30,199.30 356.45,198.82 356.60,201.01 356.75,200.17 356.90,201.96 357.05,200.25 357.20,200.45 357.35,200.45 357.50,199.07 357.65,199.59 357.80,200.95 357.95,199.29 358.10,199.85 358.25,199.65 358.40,200.26 358.55,198.92 358.70,199.54 358.85,199.92 359.00,199.80 359.15,198.88 359.30,200.56 359.45,196.98 359.60,198.57 359.75,198.49 359.90,200.64 360.05,199.38 360.20,198.80 360.35,198.65 360.50,200.14 360.65,198.74 360.80,198.53 360.95,200.34 361.10,198.61 361.25,199.45 361.40,199.75 361.55,199.34 361.70,199.72 361.85,201.05 362.00,199.28 362.15,198.58 362.30,198.03 362.45,199.59 362.60,199.46 362.75,200.05 362.90,199.36 363.05,199.35 363.20,199.12 363.35,199.31 363.50,199.96 363.65,199.45 363.80,199.91 363.95,201.63 364.10,200.28 364.25,198.33 364.40,201.48 364.55,200.17 364.70,198.94 364.85,200.71 365.00,199.86 365.15,199.27 365.30,199.25 365.45,198.91 365.60,199.96 365.75,200.88 365.90,199.56 366.05,200.27 366.20,201.66 366.35,198.72 366.50,200.13 366.65,199.60 366.80,198.88 366.95,198.92 367.10,199.88 367.25,200.31 367.40,199.40 367.55,199.96 367.70,200.60 367.85,200.20 368.00,200.75 368.15,200.36 368.30,200.39 368.45,201.67 368.60,200.53 368.75,200.06 368.90,200.62 369.05,199.07 369.20,199.63 369.35,200.71 369.50,200.55 369.65,201.43 369.80,199.97 369.95,198.58 370.10,201.82 370.25,201.01 370.40,198.97 370.55,201.29 370.70,200.01 370.85,198.26 371.00,199.59 371.15,199.51 371.30,201.51 371.45,199.25 371.60,199.76 371.75,199.74 371.90,199.65 372.05,199.14 372.20,200.22 372.35,201.04 372.50,200.61 372.65,199.14 372.80,198.93 372.95,200.14 373.10,199.36 373.25,199.43 373.40,198.44 373.55,201.89 373.70,200.91 373.85,199.12 374.00,200.91 374.15,201.32 374.30,197.78 374.45,199.53 374.60,199.69 374.75,200.67 374.90,199.94 375.05,199.84 375.20,200.01 375.35,201.83 375.50,202.12 375.65,199.57 375.80,199.19 375.95,202.63 376.10,199.14 376.25,199.53 376.40,200.11 376.55,200.54 376.70,201.06 376.85,200.46 377.00,199.26 377.15,200.57 377.30,200.33 377.45,204.01 377.60,200.08 377.75,198.82 377.90,199.10 378.05,201.47 378.20,199.58 378.35,198.10 378.50,199.54 378.65,200.10 378.80,201.23 378.95,199.13 379.10,200.73 379.25,200.85 379.40,199.43 379.55,199.92 379.70,201.78 379.85,201.73 380.00,200.91 380.15,200.42 380.30,201.18 380.45,199.97 380.60,200.01 380.75,199.28 380.90,200.11 381.05,200.02 381.20,202.73 381.35,199.92 381.50,201.31 381.65,201.35 381.80,199.92 381.95,201.21 382.10,198.03 382.25,200.19 382.40,200.91 382.55,197.82 382.70,199.00 382.85,201.10 383.00,199.86 383.15,199.06 383.30,199.75 383.45,198.97 383.60,200.79 383.75,200.53 383.90,199.83 384.05,199.47 384.20,200.05 384.35,201.36 384.50,200.43 384.65,200.71 384.80,199.96 384.95,198.87 385.10,199.42 385.25,200.72 385.40,200.20 385.55,199.24 385.70,198.56 385.85,200.21 386.00,199.78 386.15,199.77 386.30,199.79 386.45,200.37 386.60,200.38 386.75,201.01 386.90,200.98 387.05,201.37 387.20,200.87 387.35,199.78 387.50,200.05 387.65,200.57 387.80,199.81 387.95,200.62 388.10,201.20 388.25,199.34 388.40,198.42 388.55,201.23 388.70,200.12 388.85,200.77 389.00,198.83 389.15,203.72 389.30,200.80 389.45,199.98 389.60,199.77 389.75,200.21 389.90,199.94 390.05,199.84 390.20,199.04 390.35,201.30 390.50,200.06 390.65,200.17 390.80,200.19 390.95,197.86 391.10,200.60 391.25,199.79 391.40,199.83 391.55,200.17 391.70,199.18 391.85,200.90 392.00,199.44 392.15,199.24 392.30,199.28 392.45,200.25 392.60,200.81 392.75,199.53 392.90,198.67 393.05,201.11 393.20,199.09 393.35,201.24 393.50,200.05 393.65,199.44 393.80,199.49 393.95,200.54 394.10,200.94 394.25,199.91 394.40,201.00 394.55,202.08 394.70,199.90 394.85,199.01 395.00,199.10 395.15,198.78 395.30,199.49 395.45,199.41 395.60,198.84 395.75,200.60 395.90,197.62 396.05,198.85 396.20,202.01 396.35,201.08 396.50,200.59 396.65,200.53 396.80,201.77 396.95,200.59 397.10,200.15 397.25,198.90 397.40,199.99 397.55,199.36 397.70,199.37 397.85,199.36 398.00,199.98 398.15,199.70 398.30,200.83 398.45,198.73 398.60,199.82 398.75,201.73 398.90,199.99 399.05,201.07 399.20,201.00 399.35,201.16 399.50,200.59 399.65,198.55 399.80,199.60 399.95,199.47 400.10,198.34 400.25,199.35 400.40,198.58 400.55,198.17 400.70,199.94 400.85,199.67 401.00,199.04 401.15,198.76 401.30,199.13 401.45,199.25 401.60,199.21 401.75,199.53 401.90,199.14 402.05,199.90 402.20,200.01 402.35,199.83 402.50,198.82 402.65,198.84 402.80,199.82 402.95,199.19 403.10,199.32 403.25,196.94 403.40,196.71 403.55,199.60 403.70,199.57 403.85,200.57 404.00,199.89 404.15,199.39 404.30,199.16 404.45,197.74 404.60,199.93 404.75,198.46 404.90,199.49 405.05,199.16 405.20,199.19 405.35,199.75 405.50,198.38 405.65,198.43 405.80,197.93 405.95,198.35 406.10,200.28 406.25,198.26 406.40,199.71 406.55,199.31 406.70,199.17 406.85,199.18 407.00,197.36 407.15,198.65 407.30,199.78 407.45,197.49 407.60,198.01 407.75,197.37 407.90,198.29 408.05,196.86 408.20,199.43 408.35,197.42 408.50,196.20 408.65,199.41 408.80,198.54 408.95,198.02 409.10,197.97 409.25,197.02 409.40,197.08 409.55,197.94 409.70,198.06 409.85,198.00 410.00,197.21 410.15,196.46 410.30,196.65 410.45,197.86 410.60,198.10 410.75,196.23 410.90,196.00 411.05,197.62 411.20,197.00 411.35,196.87 411.50,194.74 411.65,195.57 411.80,195.31 411.95,195.93 412.10,193.89 412.25,196.77 412.40,195.66 412.55,195.68 412.70,193.90 412.85,194.96 413.00,196.22 413.15,193.12 413.30,194.91 413.45,195.19 413.60,193.63 413.75,195.05 413.90,193.74 414.05,195.23 414.20,194.37 414.35,193.92 414.50,195.64 414.65,194.28 414.80,194.64 414.95,191.88 415.10,192.30 415.25,193.71 415.40,193.64 415.55,192.47 415.70,193.20 415.85,191.11 416.00,192.30 416.15,190.70 416.30,192.12 416.45,191.08 416.60,190.76 416.75,191.35 416.90,193.08 417.05,189.89 417.20,190.17 417.35,191.82 417.50,190.05 417.65,192.27 417.80,190.44 417.95,190.15 418.10,190.29 418.25,191.66 418.40,190.32 418.55,190.02 418.70,189.59 418.85,187.44 419.00,188.04 419.15,190.52 419.30,189.64 419.45,189.15 419.60,189.15 419.75,187.69 419.90,188.53 420.05,187.00 420.20,188.30 420.35,186.91 420.50,187.32 420.65,187.93 420.80,186.90 420.95,187.85 421.10,187.48 421.25,187.21 421.40,188.15 421.55,184.81 421.70,184.51 421.85,186.87 422.00,187.08 422.15,188.14 422.30,186.53 422.45,186.44 422.60,184.29 422.75,186.00 422.90,185.73 423.05,183.53 423.20,183.53 423.35,184.25 423.50,184.53 423.65,180.54 423.80,183.89 423.95,183.89 424.10,183.21 424.25,183.54 424.40,183.57 424.55,181.63 424.70,183.14 424.85,182.15 425.00,181.12 425.15,182.31 425.30,183.66 425.45,179.92 425.60,179.49 425.75,179.30 425.90,183.52 426.05,180.63 426.20,180.69 426.35,179.62 426.50,179.25 426.65,177.74 426.80,180.26 426.95,180.20 427.10,177.26 427.25,178.24 427.40,178.43 427.55,179.15 427.70,179.32 427.85,180.24 428.00,180.37 428.15,179.83 428.30,180.00 428.45,176.68 428.60,177.28 428.75,179.24 428.90,177.99 429.05,177.47 429.20,174.76 429.35,174.73 429.50,177.84 429.65,177.17 429.80,176.17 429.95,175.83 430.10,173.96 430.25,176.47 430.40,177.14 430.55,177.74 430.70,175.50 430.85,174.98 431.00,173.64 431.15,176.47 431.30,176.92 431.45,173.70 431.60,174.69 431.75,174.24 431.90,173.18 432.05,170.45 432.20,173.06 432.35,174.15 432.50,171.24 432.65,171.83 432.80,168.37 432.95,174.25 433.10,173.00 433.25,172.18 433.40,171.54 433.55,170.82 433.70,171.35 433.85,170.81 434.00,170.66 434.15,170.72 434.30,170.69 434.45,172.39 434.60,168.03 434.75,170.12 434.90,168.64 435.05,167.65 435.20,165.68 435.35,169.52 435.50,167.02 435.65,167.05 435.80,168.47 435.95,166.00 436.10,167.27 436.25,166.83 436.40,167.78 436.55,167.78 436.70,164.82 436.85,167.06 437.00,165.32 437.15,165.33 437.30,164.55 437.45,165.68 437.60,162.51 437.75,164.35 437.90,165.39 438.05,162.97 438.20,166.07 438.35,161.73 438.50,162.84 438.65,161.53 438.80,161.05 438.95,160.03 439.10,160.60 439.25,161.04 439.40,159.64 439.55,161.88 439.70,162.56 439.85,157.68 440.00,160.96 440.15,159.69 440.30,159.49 440.45,162.58 440.60,160.36 440.75,158.73 440.90,158.19 441.05,154.27 441.20,158.49 441.35,155.81 441.50,156.92 441.65,156.46 441.80,157.47 441.95,158.81 442.10,156.81 442.25,156.89 442.40,154.11 442.55,154.80 442.70,154.88 442.85,150.90 443.00,156.06 443.15,151.16 443.30,149.78 443.45,154.06 443.60,154.40 443.75,149.32 443.90,149.01 444.05,154.72 444.20,149.32 444.35,145.39 444.50,147.25 444.65,151.24 444.80,148.60 444.95,148.39 445.10,148.84 445.25,147.56 445.40,145.50 445.55,142.99 445.70,146.14 445.85,143.11 446.00,144.60 446.15,147.41 446.30,144.98 446.45,143.82 446.60,143.52 446.75,144.38 446.90,144.42 447.05,140.22 447.20,142.58 447.35,145.01 447.50,143.07 447.65,140.15 447.80,140.07 447.95,137.41 448.10,139.46 448.25,143.52 448.40,140.33 448.55,138.72 448.70,139.01 448.85,139.64 449.00,139.45 449.15,138.82 449.30,137.90 449.45,140.26 449.60,141.74 449.75,137.81 449.90,137.74 450.05,140.78 450.20,135.91 450.35,137.44 450.50,137.82 450.65,138.81 450.80,138.01 450.95,136.92 451.10,139.10 451.25,136.41 451.40,135.42 451.55,134.94 451.70,139.99 451.85,135.53 452.00,139.51 452.15,139.95 452.30,140.24 452.45,138.51 452.60,137.88 452.75,139.07 452.90,137.90 453.05,136.70 453.20,141.34 453.35,137.55 453.50,142.49 453.65,140.29 453.80,138.66 453.95,140.40 454.10,141.96 454.25,137.44 454.40,138.42 454.55,138.38 454.70,141.08 454.85,141.34 455.00,140.87 455.15,139.72 455.30,140.28 455.45,143.53 455.60,143.62 455.75,142.13 455.90,139.88 456.05,143.60 456.20,143.34 456.35,143.64 456.50,150.19 456.65,145.38 456.80,142.67 456.95,143.10 457.10,147.55 457.25,145.94 457.40,147.50 457.55,146.21 457.70,145.16 457.85,147.69 458.00,150.23 458.15,148.52 458.30,146.41 458.45,148.14 458.60,148.20 458.75,149.68 458.90,151.45 459.05,153.39 459.20,150.88 459.35,150.18 459.50,151.37 459.65,151.63 459.80,151.27 459.95,152.35 460.10,152.66 460.25,151.11 460.40,154.22 460.55,153.09 460.70,152.42 460.85,155.09 461.00,153.84 461.15,157.67 461.30,155.94 461.45,155.58 461.60,154.53 461.75,155.32 461.90,157.52 462.05,155.33 462.20,157.80 462.35,149.79 462.50,157.34 462.65,158.49 462.80,157.95 462.95,157.61 463.10,159.37 463.25,156.68 463.40,156.66 463.55,158.52 463.70,160.37 463.85,159.36 464.00,158.57 464.15,159.49 464.30,159.86 464.45,157.44 464.60,155.21 464.75,158.07 464.90,157.50 465.05,159.02 465.20,158.21 465.35,158.84 465.50,160.92 465.65,160.52 465.80,160.45 465.95,163.08 466.10,160.00 466.25,160.21 466.40,162.78 466.55,159.32 466.70,158.64 466.85,163.13 467.00,161.78 467.15,162.27 467.30,162.41 467.45,162.90 467.60,160.94 467.75,161.62 467.90,160.16 468.05,162.10 468.20,162.32 468.35,161.37 468.50,163.10 468.65,166.56 468.80,160.53 468.95,163.52 469.10,163.74 469.25,163.96 469.40,161.23 469.55,164.22 469.70,163.44 469.85,162.30 470.00,161.99 470.15,162.86 470.30,163.88 470.45,163.81 470.60,165.89 470.75,161.98 470.90,163.42 471.05,161.87 471.20,163.65 471.35,162.69 471.50,161.60 471.65,160.51 471.80,161.33 471.95,162.81 472.10,164.62 472.25,163.58 472.40,160.65 472.55,161.68 472.70,162.43 472.85,162.16 473.00,162.41 473.15,163.43 473.30,162.56 473.45,161.18 473.60,159.32 473.75,161.64 473.90,159.62 474.05,161.84 474.20,162.50 474.35,159.98 474.50,161.66 474.65,161.26 474.80,164.49 474.95,162.21 475.10,158.58 475.25,161.90 475.40,161.70 475.55,160.62 475.70,160.18 475.85,161.45 476.00,161.35 476.15,160.81 476.30,158.44 476.45,159.35 476.60,157.15 476.75,157.01 476.90,158.20 477.05,157.22 477.20,157.96 477.35,162.15 477.50,158.88 477.65,156.52 477.80,154.32 477.95,156.12 478.10,154.96 478.25,153.51 478.40,157.78 478.55,155.62 478.70,156.75 478.85,160.60 479.00,155.86 479.15,155.29 479.30,155.31 479.45,153.99 479.60,152.73 479.75,153.34 479.90,155.14 480.05,152.51 480.20,150.36 480.35,150.17 480.50,150.15 480.65,151.46 480.80,151.86 480.95,151.49 481.10,152.30 481.25,149.66 481.40,151.03 481.55,149.86 481.70,150.17 481.85,145.62 482.00,150.47 482.15,145.50 482.30,145.87 482.45,148.74 482.60,146.43 482.75,149.72 482.90,146.64 483.05,144.25 483.20,145.90 483.35,144.58 483.50,147.58 483.65,147.37 483.80,146.99 483.95,143.19 484.10,143.73 484.25,145.12 484.40,141.62 484.55,141.38 484.70,144.05 484.85,143.66 485.00,141.81 485.15,141.63 485.30,138.58 485.45,144.07 485.60,141.79 485.75,139.52 485.90,140.13 486.05,140.65 486.20,145.35 486.35,143.73 486.50,140.37 486.65,146.17 486.80,145.49 486.95,141.56 487.10,139.05 487.25,145.63 487.40,143.21 487.55,144.04 487.70,143.96 487.85,147.34 488.00,148.03 488.15,147.24 488.30,146.02 488.45,147.21 488.60,148.35 488.75,145.25 488.90,150.62 489.05,148.70 489.20,150.38 489.35,150.94 489.50,152.97 489.65,154.04 489.80,156.69 489.95,153.43 490.10,153.42 490.25,155.92 490.40,155.55 490.55,158.76 490.70,157.04 490.85,159.32 491.00,161.35 491.15,162.27 491.30,161.91 491.45,164.58 491.60,165.29 491.75,161.87 491.90,165.80 492.05,166.51 492.20,166.80 492.35,167.31 492.50,169.24 492.65,170.68 492.80,171.49 492.95,176.15 493.10,174.32 493.25,173.15 493.40,173.82 493.55,176.77 493.70,175.61 493.85,177.51 494.00,178.65 494.15,180.06 494.30,180.14 494.45,181.99 494.60,180.37 494.75,182.44 494.90,181.54 495.05,183.24 495.20,183.83 495.35,183.26 495.50,181.96 495.65,186.71 495.80,186.63 495.95,186.97 496.10,186.58 496.25,187.54 496.40,189.61 496.55,188.95 496.70,190.67 496.85,189.96 497.00,189.35 497.15,191.29 497.30,189.57 497.45,191.62 497.60,189.82 497.75,191.74 497.90,193.04 498.05,192.11 498.20,193.09 498.35,194.05 498.50,193.81 498.65,195.87 498.80,194.04 498.95,194.39 499.10,194.66 499.25,193.05 499.40,193.73 499.55,196.04 499.70,195.36 499.85,197.27 500.00,195.95 500.15,196.01 500.30,197.35 500.45,196.74 500.60,198.21 500.75,195.69 500.90,197.31 501.05,197.68 501.20,197.69 501.35,198.40 501.50,198.40 501.65,197.54 501.80,197.07 501.95,198.70 502.10,197.90 502.25,198.90 502.40,199.39 502.55,198.37 502.70,197.40 502.85,198.13 503.00,199.24 503.15,198.33 503.30,199.80 503.45,198.79 503.60,198.96 503.75,198.31 503.90,198.90 504.05,200.13 504.20,198.82 504.35,198.90 504.50,198.54 504.65,200.10 504.80,197.96 504.95,198.85 505.10,200.41 505.25,200.96 505.40,199.44 505.55,200.63 505.70,197.87 505.85,200.53 506.00,200.14 506.15,198.75 506.30,198.27 506.45,199.53 506.60,200.31 506.75,200.46 506.90,200.27 507.05,200.94 507.20,200.92 507.35,198.99 507.50,199.99 507.65,199.91 507.80,201.42 507.95,200.02 508.10,201.49 508.25,200.67 508.40,202.85 508.55,200.62 508.70,200.71 508.85,200.64 509.00,200.93 509.15,203.13 509.30,200.38 509.45,200.07 509.60,200.74 509.75,201.60 509.90,200.06 510.05,201.78 510.20,201.78 510.35,200.92 510.50,200.86 510.65,200.37 510.80,200.88 510.95,200.40 511.10,202.36 511.25,202.74 511.40,200.94 511.55,201.18 511.70,199.42 511.85,200.73 512.00,201.56 512.15,201.50 512.30,201.36 512.45,202.05 512.60,201.34 512.75,200.88 512.90,202.77 513.05,199.44 513.20,200.16 513.35,200.56 513.50,200.57 513.65,200.53 513.80,201.05 513.95,200.59 514.10,201.22 514.25,201.83 514.40,201.30 514.55,201.40 514.70,200.39 514.85,200.20 515.00,201.01 515.15,202.16 515.30,201.64 515.45,202.32 515.60,202.23 515.75,202.36 515.90,200.53 516.05,202.47 516.20,202.02 516.35,203.27 516.50,201.87 516.65,201.62 516.80,201.19 516.95,201.47 517.10,199.76 517.25,201.09 517.40,201.29 517.55,202.26 517.70,200.71 517.85,201.46 518.00,203.06 518.15,200.84 518.30,202.14 518.45,200.84 518.60,201.25 518.75,201.78 518.90,202.18 519.05,200.89 519.20,200.39 519.35,202.79 519.50,201.54 519.65,202.11 519.80,202.23 519.95,202.08 520.10,201.12 520.25,201.24 520.40,199.91 520.55,201.54 520.70,200.94 520.85,201.36 521.00,203.14 521.15,202.03 521.30,201.43 521.45,200.11 521.60,202.07 521.75,202.82 521.90,200.62 522.05,201.79 522.20,200.91 522.35,201.26 522.50,201.06 522.65,199.89 522.80,200.92 522.95,199.89 523.10,202.70 523.25,202.38 523.40,201.45 523.55,202.00 523.70,201.47 523.85,201.60 524.00,201.60 524.15,201.19 524.30,201.26 524.45,200.16 524.60,200.48 524.75,200.86 524.90,201.62 525.05,201.08 525.20,203.21 525.35,201.25 525.50,201.10 525.65,201.83 525.80,202.39 525.95,203.16 526.10,202.34 526.25,200.89 526.40,201.28 526.55,202.42 526.70,201.68 526.85,202.19 527.00,201.38 527.15,202.94 527.30,202.80 527.45,202.50 527.60,201.60 527.75,199.96 527.90,200.20 528.05,201.76 528.20,202.07 528.35,198.75 528.50,201.02 528.65,202.54 528.80,202.35 528.95,201.01 529.10,202.06 529.25,201.50 529.40,201.27 529.55,202.51 529.70,202.53 529.85,200.99 530.00,200.60 530.15,200.27 530.30,200.16 530.45,202.72 530.60,203.23 530.75,201.68 530.90,202.47 531.05,200.85 531.20,201.43 531.35,202.34 531.50,201.79 531.65,201.46 531.80,199.95 531.95,200.15 532.10,200.70 532.25,200.99 532.40,201.43 532.55,200.91 532.70,201.30 532.85,201.56 533.00,201.98 533.15,201.56 533.30,201.00 533.45,201.25 533.60,202.34 533.75,201.31 533.90,200.61 534.05,200.57 534.20,201.77 534.35,202.02 534.50,202.64 534.65,201.21 534.80,202.78 534.95,201.19 535.10,201.29 535.25,200.98 535.40,201.99 535.55,202.48 535.70,201.48 535.85,201.04 536.00,200.08 536.15,201.65 536.30,201.19 536.45,201.32 536.60,200.93 536.75,200.70 536.90,201.11 537.05,201.92 537.20,202.39 537.35,201.50 537.50,201.81 537.65,201.33 537.80,201.39 537.95,200.25 538.10,202.32 538.25,202.06 538.40,202.85 538.55,200.95 538.70,201.63 538.85,200.66 539.00,201.74 539.15,201.40 539.30,202.14 539.45,201.38 539.60,202.11 539.75,200.55 539.90,202.07 540.05,201.24 540.20,201.12 540.35,201.60 540.50,201.86 540.65,200.23 540.80,200.13 540.95,201.70 541.10,201.48 541.25,199.66 541.40,199.96 541.55,200.82 541.70,201.83 541.85,201.72 542.00,202.46 542.15,202.61 542.30,203.72 542.45,200.21 542.60,201.50 542.75,202.52 542.90,200.38 543.05,200.24 543.20,201.72 543.35,202.55 543.50,202.70 543.65,199.91 543.80,200.43 543.95,201.46 544.10,201.06 544.25,201.84 544.40,201.67 544.55,203.17 544.70,201.49 544.85,201.72 545.00,201.62 545.15,202.57 545.30,200.53 545.45,201.91 545.60,200.84 545.75,200.25 545.90,202.65 546.05,202.05 546.20,202.85 546.35,201.80 546.50,202.17 546.65,201.69 546.80,202.10 546.95,201.19 547.10,203.15 547.25,200.76 547.40,203.16 547.55,201.40 547.70,202.39 547.85,201.71 548.00,202.00 548.15,202.96 548.30,201.72 548.45,200.72 548.60,201.81 548.75,202.19 548.90,199.32 549.05,202.50 549.20,202.61 549.35,199.95 549.50,201.45 549.65,202.36 549.80,200.52 549.95,201.21 550.10,201.28 550.25,202.12 550.40,202.64 550.55,201.57 550.70,201.66 550.85,202.47 551.00,202.11 551.15,201.50 551.30,202.84 551.45,200.29 551.60,201.75 551.75,201.21 551.90,201.14 552.05,201.79 552.20,201.64 552.35,203.90 552.50,202.21 552.65,201.94 552.80,203.15 552.95,202.56 553.10,199.87 553.25,201.72 553.40,202.31 553.55,201.05 553.70,201.89 553.85,201.18 554.00,201.96 554.15,200.09 554.30,199.79 554.45,201.09 554.60,201.82 554.75,202.85 554.90,201.35 555.05,200.91 555.20,202.46 555.35,201.64 555.50,205.37 555.65,201.47 555.80,199.78 555.95,200.86 556.10,200.71 556.25,200.30 556.40,200.88 556.55,200.96 556.70,201.34 556.85,201.09 557.00,201.99 557.15,201.99 557.30,201.77 557.45,201.79 557.60,199.84 557.75,200.04 557.90,200.78 558.05,201.84 558.20,198.61 558.35,201.21 558.50,201.84 558.65,203.47 558.80,201.85 558.95,200.53 559.10,202.63 559.25,201.80 559.40,201.32 559.55,202.65 559.70,200.74 559.85,201.78 560.00,201.67 560.15,203.48 560.30,200.52 560.45,200.38 560.60,201.23 560.75,201.33 560.90,201.63 561.05,201.24 561.20,202.00 561.35,202.24 561.50,201.80 561.65,200.60 561.80,202.67 561.95,200.14 562.10,201.39 562.25,202.42 562.40,201.00 562.55,202.80 562.70,203.39 562.85,203.07 563.00,201.99 563.15,202.51 563.30,201.10 563.45,201.96 563.60,202.01 563.75,201.67 563.90,201.73 564.05,201.39 564.20,199.73 564.35,201.96 564.50,201.88 564.65,203.52 564.80,202.26 564.95,201.65 565.10,202.41 565.25,202.18 565.40,201.57 565.55,201.23 565.70,200.20 565.85,201.71 566.00,203.12 566.15,199.83 566.30,200.69 566.45,202.30 566.60,201.77 566.75,201.99 566.90,199.83 567.05,201.03 567.20,202.07 567.35,202.15 567.50,201.87 567.65,200.76 567.80,202.10 567.95,200.46 568.10,200.70 568.25,200.49 568.40,202.95 568.55,201.20 568.70,201.64 568.85,199.51 569.00,202.63 569.15,202.03 569.30,200.02 569.45,200.07 569.60,203.16 569.75,200.70 569.90,203.33 570.05,201.15 570.20,199.24 570.35,202.64 570.50,202.06 570.65,202.23 570.80,201.11 570.95,201.39 571.10,202.49 571.25,200.81 571.40,199.72 571.55,202.45 571.70,201.00 571.85,202.79 572.00,201.13 572.15,201.18 572.30,201.35 572.45,199.35 572.60,202.70 572.75,200.99 572.90,201.40 573.05,202.97 573.20,201.69 573.35,202.43 573.50,201.90 573.65,202.32 573.80,201.85 573.95,202.68 574.10,201.39 574.25,202.02 574.40,200.91 574.55,202.71 574.70,199.51 574.85,201.76 575.00,201.93 575.15,201.91 575.30,201.58 575.45,202.86 575.60,203.59 575.75,201.02 575.90,199.77 576.05,200.55 576.20,200.81 576.35,201.46 576.50,201.53 576.65,202.61 576.80,201.18 576.95,201.55 577.10,201.69 577.25,200.75 577.40,201.28 577.55,204.20 577.70,201.49 577.85,200.67 578.00,199.51 578.15,202.57 578.30,201.27 578.45,200.98 578.60,203.90 578.75,202.94 578.90,199.95 579.05,201.25 579.20,202.53 579.35,202.37 579.50,200.52 579.65,203.27 579.80,203.34 579.95,200.52 580.10,199.90 580.25,200.25 580.40,202.21 580.55,202.60 580.70,201.75 580.85,201.01 581.00,201.48 581.15,202.11 581.30,200.42 581.45,199.96 581.60,201.49 581.75,202.74 581.90,201.75 582.05,201.75 582.20,200.92 582.35,202.44 582.50,199.94 582.65,201.50 582.80,201.00 582.95,201.41 583.10,200.68 583.25,203.09 583.40,201.48 583.55,200.99 583.70,202.04 583.85,201.50 584.00,201.06 584.15,200.99 584.30,202.29 584.45,199.55 584.60,201.34 584.75,200.95 584.90,201.84 585.05,201.36 585.20,203.59 585.35,199.88 585.50,202.11 585.65,201.51 585.80,202.59 585.95,200.00 586.10,202.69 586.25,200.22 586.40,202.19 586.55,202.02 586.70,201.57 586.85,200.83 587.00,200.76 587.15,201.69 587.30,200.82 587.45,199.68 587.60,199.81 587.75,202.29 587.90,202.31 588.05,202.02 588.20,201.58 588.35,201.90 588.50,202.00 588.65,201.77 588.80,200.78 588.95,200.84 589.10,200.44 589.25,201.68 589.40,200.59 589.55,201.39 589.70,202.79 589.85,201.18 590.00,202.46 590.15,203.02 590.30,199.80 590.45,200.18 590.60,201.99 590.75,200.86 590.90,202.05 591.05,202.21 591.20,201.05 591.35,202.32 591.50,203.20 591.65,202.45 591.80,200.71 591.95,201.40 592.10,201.03 592.25,203.03 592.40,201.36 592.55,200.89 592.70,201.59 592.85,202.03 593.00,201.19 593.15,201.65 593.30,201.55 593.45,202.25 593.60,202.47 593.75,201.81 593.90,201.10 594.05,201.93 594.20,200.70 594.35,202.57 594.50,201.88 594.65,201.78 594.80,199.24 594.95,203.80 595.10,202.93 595.25,202.76 595.40,201.67 595.55,202.19 595.70,204.27 595.85,200.91 596.00,202.26 596.15,202.13 596.30,201.69 596.45,201.90 596.60,200.63 596.75,202.18 596.90,200.32 597.05,203.31 597.20,202.33 597.35,200.76 597.50,199.58 597.65,201.67 597.80,202.06 597.95,200.63 598.10,203.17 598.25,201.83 598.40,201.14 598.55,200.25 598.70,201.46 598.85,201.39 599.00,202.20 599.15,202.58 599.30,201.61 599.45,202.02 599.60,202.93 599.75,202.16 599.90,201.33 600.05,202.16 600.20,201.08 600.35,202.00 600.50,201.62 600.65,200.52 600.80,202.13 600.95,201.63 601.10,202.24 601.25,200.28 601.40,202.59 601.55,202.62 601.70,201.18 601.85,201.41 602.00,201.54 602.15,201.47 602.30,202.27 602.45,200.78 602.60,200.36 602.75,201.21 602.90,203.22 603.05,201.04 603.20,200.44 603.35,200.50 603.50,201.52 603.65,202.46 603.80,200.62 603.95,201.47 604.10,201.49 604.25,201.71 604.40,201.39 604.55,202.23 604.70,201.87 604.85,200.61 605.00,203.48 605.15,199.87 605.30,199.89 605.45,202.11 605.60,201.28 605.75,200.85 605.90,201.25 606.05,201.69 606.20,200.62 606.35,200.40 606.50,199.98 606.65,200.14 606.80,200.17 606.95,202.00 607.10,201.15 607.25,201.38 607.40,200.31 607.55,201.82 607.70,199.32 607.85,201.23 608.00,201.41 608.15,200.18 608.30,199.73 608.45,201.18 608.60,199.98 608.75,199.79 608.90,200.59 609.05,199.53 609.20,200.44 609.35,202.47 609.50,199.63 609.65,201.36 609.80,199.47 609.95,200.53 610.10,200.17 610.25,200.25 610.40,201.10 610.55,202.40 610.70,200.22 610.85,201.55 611.00,200.62" fill="none" stroke="#000" stroke-width="1.1" stroke-linejoin="round"/>
<g stroke-width="1.2">
<line x1="94.90" y1="137.3" x2="94.90" y2="157.5" stroke="#f59080"/>
<line x1="159.90" y1="163.5" x2="159.90" y2="183.8" stroke="#a03848"/>
<line x1="186.85" y1="175.5" x2="186.85" y2="183.8" stroke="#a03848"/>
<line x1="276.96" y1="178.7" x2="276.96" y2="183.8" stroke="#a03848"/>
<line x1="132.75" y1="190.3" x2="132.75" y2="210.0" stroke="#40c4a0"/>
<line x1="112.15" y1="204.8" x2="112.15" y2="210.0" stroke="#40a8c0"/>
<line x1="215.88" y1="205.2" x2="215.88" y2="210.0" stroke="#40c4a0"/>
<line x1="237.59" y1="204.1" x2="237.59" y2="210.0" stroke="#40c4a0"/>
<line x1="162.11" y1="208.3" x2="162.11" y2="210.0" stroke="#40c4a0"/>
<line x1="66.84" y1="208.6" x2="66.84" y2="210.0" stroke="#40a8c0"/>
</g>
<g stroke="#000" stroke-width="1.5" fill="none">
<rect x="33.6" y="12.2" width="258.50" height="197.70"/>
<line x1="33.6" y1="157.4" x2="292.1" y2="157.4"/>
<line x1="33.6" y1="183.7" x2="292.1" y2="183.7"/>
</g>
<g stroke="#000" stroke-width="1.7" fill="none">
<rect x="347.5" y="9.3" width="264.00" height="202.40"/>
</g>
<g stroke="#000" stroke-width="1.3">
<line x1="33.60" y1="157.4" x2="33.60" y2="162.00"/>
<line x1="70.53" y1="157.4" x2="70.53" y2="162.00"/>
<line x1="107.46" y1="157.4" x2="107.46" y2="160.80"/>
<line x1="144.39" y1="157.4" x2="144.39" y2="162.00"/>
<line x1="181.31" y1="157.4" x2="181.31" y2="160.80"/>
<line x1="218.24" y1="157.4" x2="218.24" y2="162.00"/>
<line x1="255.17" y1="157.4" x2="255.17" y2="160.80"/>
<line x1="292.10" y1="157.4" x2="292.10" y2="162.00"/>
<line x1="33.60" y1="183.7" x2="33.60" y2="188.30"/>
<line x1="70.53" y1="183.7" x2="70.53" y2="188.30"/>
<line x1="107.46" y1="183.7" x2="107.46" y2="187.10"/>
<line x1="144.39" y1="183.7" x2="144.39" y2="188.30"/>
<line x1="181.31" y1="183.7" x2="181.31" y2="187.10"/>
<line x1="218.24" y1="183.7" x2="218.24" y2="188.30"/>
<line x1="255.17" y1="183.7" x2="255.17" y2="187.10"/>
<line x1="292.10" y1="183.7" x2="292.10" y2="188.30"/>
<line x1="33.60" y1="209.9" x2="33.60" y2="214.50"/>
<line x1="70.53" y1="209.9" x2="70.53" y2="214.50"/>
<line x1="107.46" y1="209.9" x2="107.46" y2="213.30"/>
<line x1="144.39" y1="209.9" x2="144.39" y2="214.50"/>
<line x1="181.31" y1="209.9" x2="181.31" y2="213.30"/>
<line x1="218.24" y1="209.9" x2="218.24" y2="214.50"/>
<line x1="255.17" y1="209.9" x2="255.17" y2="213.30"/>
<line x1="292.10" y1="209.9" x2="292.10" y2="214.50"/>
<line x1="347.50" y1="211.7" x2="347.50" y2="216.10"/>
<line x1="389.18" y1="211.7" x2="389.18" y2="214.90"/>
<line x1="430.87" y1="211.7" x2="430.87" y2="216.10"/>
<line x1="472.55" y1="211.7" x2="472.55" y2="214.90"/>
<line x1="514.24" y1="211.7" x2="514.24" y2="216.10"/>
<line x1="555.92" y1="211.7" x2="555.92" y2="214.90"/>
<line x1="597.61" y1="211.7" x2="597.61" y2="216.10"/>
</g>
<line x1="199.8" y1="26.5" x2="219.5" y2="26.5" stroke="#ff1a33" stroke-width="1.15"/>
<line x1="228.9" y1="66.5" x2="248.9" y2="66.5" stroke="#0a18ff" stroke-width="1.15"/>
<line x1="225.3" y1="106.3" x2="244.8" y2="106.3" stroke="#000" stroke-width="1.15"/>
<line x1="520.1" y1="49.5" x2="539.8" y2="49.5" stroke="#ff1a33" stroke-width="1.2"/>
<line x1="546.6" y1="174.6" x2="565.5" y2="174.6" stroke="#000" stroke-width="1.3"/>
<circle cx="210" cy="139.8" r="0.9" fill="#f59080"/>
<circle cx="207.2" cy="168.8" r="0.7" fill="#000"/>
<circle cx="192.8" cy="196.5" r="0.7" fill="#000"/>
<text transform="translate(0.18,13.50) scale(1.0211,1)" font-size="17" fill="#000" stroke="#000" stroke-width="0.3">(a)</text>
<text transform="translate(312.38,13.60) scale(1.0150,1)" font-size="17" fill="#000" stroke="#000" stroke-width="0.3">(b)</text>
<text transform="translate(221.90,29.60) scale(0.9400,1)" font-size="10.3" fill="#000" stroke="#000" stroke-width="0.3">Co/Co<tspan font-size="6.4">3</tspan>O<tspan font-size="6.4">4</tspan><tspan stroke="#000" stroke-width="0.45">@</tspan>NC</text>
<text transform="translate(251.80,70.10) scale(0.9316,1)" font-size="10.3" fill="#000" stroke="#000" stroke-width="0.3">Co<tspan stroke="#000" stroke-width="0.45">@</tspan>NC</text>
<text transform="translate(247.02,109.60) scale(0.9780,1)" font-size="10.3" fill="#000" stroke="#000" stroke-width="0.3">PL-bio-C</text>
<text transform="translate(222.00,143.00) scale(0.9449,1)" font-size="8.8" fill="#000" stroke="#000" stroke-width="0.3">C (PDF#26-1076)</text>
<text transform="translate(216.80,172.30) scale(0.9486,1)" font-size="8.8" fill="#000" stroke="#000" stroke-width="0.3">Co (PDF#15-0806)</text>
<text transform="translate(205.00,200.00) scale(0.9448,1)" font-size="8.8" fill="#000" stroke="#000" stroke-width="0.3">Co<tspan font-size="5.4">3</tspan>O<tspan font-size="5.4">4</tspan> (PDF#42-1467)</text>
<text transform="translate(64.90,225.80) scale(0.9333,1)" font-size="11.3" fill="#000" stroke="#000" stroke-width="0.3">20</text>
<text transform="translate(138.60,225.80) scale(0.9500,1)" font-size="11.3" fill="#000" stroke="#000" stroke-width="0.3">40</text>
<text transform="translate(212.60,225.80) scale(0.9333,1)" font-size="11.3" fill="#000" stroke="#000" stroke-width="0.3">60</text>
<text transform="translate(286.50,225.80) scale(0.9333,1)" font-size="11.3" fill="#000" stroke="#000" stroke-width="0.3">80</text>
<text transform="translate(130.50,244.30) scale(0.9273,1)" font-size="14.8" fill="#000" stroke="#000" stroke-width="0.3">2<tspan font-family="Liberation Serif" font-style="italic" font-weight="normal" stroke-width="0.1" dx="0.6">&#952;</tspan><tspan dx="-1.2"> (degree)</tspan></text>
<text transform="translate(23.90,161.76) rotate(-90) scale(1.0615,1)" font-size="14.5" fill="#000" stroke="#000" stroke-width="0.3">Intensity (a.u.)</text>
<text transform="translate(351.25,37.30) scale(0.9529,1)" font-size="9.5" fill="#ff1a3a" stroke="#ff1a3a" stroke-width="0.3">I<tspan font-size="6.8" dy="4">D</tspan><tspan dy="-4">/I</tspan><tspan font-size="6.8" dy="4">G</tspan><tspan dy="-4"> = 1.003</tspan></text>
<text transform="translate(435.44,20.80) scale(0.9577,1)" font-size="8.2" fill="#000" stroke="#000" stroke-width="0.3">D band</text>
<text transform="translate(476.70,21.80) scale(0.9000,1)" font-size="8.2" fill="#000" stroke="#000" stroke-width="0.3">G band</text>
<text transform="translate(542.20,52.90) scale(0.9614,1)" font-size="10.3" fill="#000" stroke="#000" stroke-width="0.3">Co/Co<tspan font-size="6.4">3</tspan>O<tspan font-size="6.4">4</tspan><tspan stroke="#000" stroke-width="0.45">@</tspan>NC</text>
<text transform="translate(350.92,152.50) scale(0.9780,1)" font-size="9.6" fill="#000" stroke="#000" stroke-width="0.3">I<tspan font-size="5.6" dy="4.4">D</tspan><tspan dy="-4.4">/I</tspan><tspan font-size="5.6" dy="4.4">G</tspan><tspan dy="-4.4"> = 1.065</tspan></text>
<text transform="translate(567.91,178.00) scale(0.9927,1)" font-size="10.3" fill="#000" stroke="#000" stroke-width="0.3">PL-bio-C</text>
<text transform="translate(338.90,227.40) scale(0.9333,1)" font-size="11.3" fill="#000" stroke="#000" stroke-width="0.3">600</text>
<text transform="translate(418.70,227.40) scale(0.9542,1)" font-size="11.3" fill="#000" stroke="#000" stroke-width="0.3">1200</text>
<text transform="translate(502.00,227.40) scale(0.9542,1)" font-size="11.3" fill="#000" stroke="#000" stroke-width="0.3">1800</text>
<text transform="translate(586.35,227.40) scale(0.9160,1)" font-size="11.3" fill="#000" stroke="#000" stroke-width="0.3">2400</text>
<text transform="translate(418.26,246.40) scale(0.9446,1)" font-size="13.0" fill="#000" stroke="#000" stroke-width="0.3">Raman Shift (cm<tspan font-size="7.6" dy="-6.6">-1</tspan><tspan dy="6.6">)</tspan></text>
<text transform="translate(339.30,183.84) rotate(-90) scale(1.0384,1)" font-size="13.0" fill="#000" stroke="#000" stroke-width="0.3">Intensity (a.u.)</text>
</svg>
</body></html>
